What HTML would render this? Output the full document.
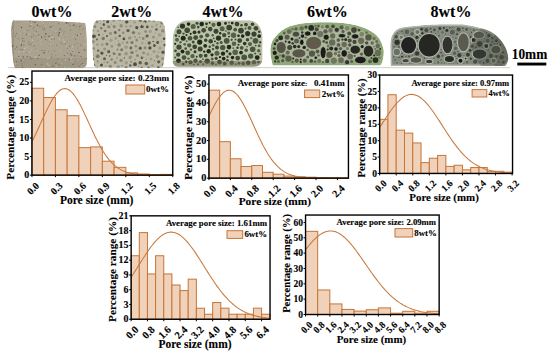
<!DOCTYPE html>
<html><head><meta charset="utf-8"><style>
html,body{margin:0;padding:0;background:#fff;}
body{width:550px;height:353px;overflow:hidden;position:relative;}
svg{position:absolute;left:0;top:0;}
text{font-family:"Liberation Serif",serif;font-weight:bold;fill:#000;stroke:#000;stroke-width:0.12px;}
.ph{font-size:16px;}
</style></head><body>
<svg width="550" height="353" viewBox="0 0 550 353">
<defs>
<pattern id="hatch" patternUnits="userSpaceOnUse" width="2" height="2">
<rect width="2" height="2" fill="#f0d2bb"/>
</pattern>
</defs>
<g id="photos">
<defs><filter id="bl" x="-5%" y="-10%" width="110%" height="120%"><feGaussianBlur stdDeviation="0.5"/></filter>
<filter id="bl2" x="-5%" y="-10%" width="110%" height="120%"><feGaussianBlur stdDeviation="0.35"/></filter>
<clipPath id="cs1"><path d="M13.2,20.3 Q50,19.5 85.2,22.8 Q87.5,30 86.8,64.1 Q86,68 82,68 L14.8,68 Q12,60 11.2,31.4 Q11.5,21.5 13.2,20.3 Z"/></clipPath>
<clipPath id="cs2"><path d="M97,20.2 Q130,19.2 160,21 Q165.7,22 165.7,37.5 Q165.5,60 162.3,67.8 L95,67.5 Q92.3,60 92.1,37.5 Q92.3,21 97,20.2 Z"/></clipPath>
<clipPath id="cs3"><path d="M187,20.2 L249.6,20.2 C257,21 262.6,27 262.6,38 L262.6,58 C262.4,64 259,66.7 254,66.7 L178,66.7 C174,66.5 172.6,64 172.6,60 L172.6,40 C172.8,28 178,21 187,20.2 Z"/></clipPath>
<clipPath id="cs4"><path d="M272.7,65.4 C272.4,63.7 270.9,58.2 270.6,55.0 C270.3,51.8 270.2,48.8 270.8,46.0 C271.4,43.2 271.6,41.4 274.0,38.4 C276.4,35.4 280.1,30.8 285.4,28.2 C290.7,25.6 297.3,24.0 305.8,23.1 C314.3,22.2 327.0,22.0 336.3,22.6 C345.6,23.2 355.0,24.7 361.8,26.9 C368.6,29.1 373.4,32.2 377.0,35.8 C380.6,39.4 382.4,44.5 383.4,48.5 C384.4,52.5 383.3,57.2 382.8,60.0 C382.3,62.8 380.9,64.5 380.5,65.4 Z"/></clipPath>
<clipPath id="cs5"><path d="M390.9,65.9 C390.8,63.6 390.6,56.3 390.6,52.0 C390.6,47.7 390.2,43.4 390.9,40.1 C391.5,36.8 392.5,34.1 394.5,32.0 C396.5,29.9 398.1,28.7 402.7,27.6 C407.2,26.5 413.9,25.9 421.8,25.4 C429.7,24.9 442.4,24.6 450.0,24.6 C457.6,24.6 461.1,24.3 467.1,25.2 C473.2,26.1 481.2,27.8 486.3,29.8 C491.4,31.8 494.8,34.2 498.0,37.2 C501.2,40.2 503.7,44.1 505.4,47.5 C507.1,50.9 507.9,55.1 508.2,57.8 C508.4,60.5 507.4,62.4 506.9,63.7 C506.4,65.1 505.3,65.5 505.0,65.9 Z"/></clipPath>
</defs>
<rect x="8" y="67" width="502" height="1.2" fill="#d9d5d2"/>
<g clip-path="url(#cs1)"><path d="M13.2,20.3 Q50,19.5 85.2,22.8 Q87.5,30 86.8,64.1 Q86,68 82,68 L14.8,68 Q12,60 11.2,31.4 Q11.5,21.5 13.2,20.3 Z" fill="#aaa28e"/><g filter="url(#bl2)"><rect x="10" y="58" width="80" height="12" fill="#948c78" opacity="0.5"/><rect x="10" y="18" width="4" height="52" fill="#8e8672" opacity="0.5"/><circle cx="21.2" cy="60.8" r="0.7" fill="#5e584a"/><circle cx="20" cy="56.8" r="0.6" fill="#bdb8a6"/><circle cx="70.9" cy="25.4" r="0.4" fill="#bdb8a6"/><circle cx="43.9" cy="56.8" r="0.4" fill="#bdb8a6"/><circle cx="31.2" cy="58.7" r="0.6" fill="#6e6858"/><circle cx="79.5" cy="22.4" r="0.4" fill="#c4bfae"/><circle cx="11.7" cy="62.4" r="0.7" fill="#bdb8a6"/><circle cx="66.2" cy="45.8" r="0.7" fill="#bdb8a6"/><circle cx="53" cy="37.2" r="0.7" fill="#bdb8a6"/><circle cx="83.4" cy="64.5" r="0.5" fill="#c4bfae"/><circle cx="81.1" cy="25.7" r="0.6" fill="#8a826e"/><circle cx="76.4" cy="26.7" r="0.5" fill="#8a826e"/><circle cx="85" cy="44.5" r="0.8" fill="#c4bfae"/><circle cx="74.1" cy="52.5" r="0.5" fill="#c4bfae"/><circle cx="85" cy="44.5" r="0.8" fill="#bdb8a6"/><circle cx="55.8" cy="22.6" r="0.5" fill="#bdb8a6"/><circle cx="42.5" cy="29.1" r="0.6" fill="#8a826e"/><circle cx="70" cy="55.7" r="0.4" fill="#8a826e"/><circle cx="49.6" cy="57.6" r="0.6" fill="#bdb8a6"/><circle cx="39.2" cy="55.4" r="0.6" fill="#5e584a"/><circle cx="64.5" cy="67.2" r="0.6" fill="#bdb8a6"/><circle cx="60.2" cy="28.9" r="0.5" fill="#6e6858"/><circle cx="69.6" cy="46.4" r="0.7" fill="#7d7766"/><circle cx="41.7" cy="37.2" r="0.7" fill="#5e584a"/><circle cx="45.9" cy="33.7" r="0.6" fill="#8a826e"/><circle cx="11.4" cy="57.8" r="0.7" fill="#8a826e"/><circle cx="49.9" cy="27.1" r="0.7" fill="#7d7766"/><circle cx="43.4" cy="23.6" r="0.7" fill="#c4bfae"/><circle cx="53.1" cy="65.2" r="0.5" fill="#5e584a"/><circle cx="42.5" cy="21.1" r="0.6" fill="#c4bfae"/><circle cx="36.2" cy="49.2" r="0.7" fill="#8a826e"/><circle cx="24.5" cy="48.5" r="0.7" fill="#c4bfae"/><circle cx="71.6" cy="59.4" r="0.5" fill="#8a826e"/><circle cx="16.4" cy="61.8" r="0.6" fill="#5e584a"/><circle cx="30" cy="26.1" r="0.6" fill="#5e584a"/><circle cx="33.1" cy="28.9" r="0.5" fill="#7d7766"/><circle cx="60.9" cy="51.5" r="0.5" fill="#8a826e"/><circle cx="35.5" cy="43.3" r="0.4" fill="#bdb8a6"/><circle cx="37.1" cy="58.4" r="0.5" fill="#5e584a"/><circle cx="79.4" cy="45" r="0.4" fill="#c4bfae"/><circle cx="43.8" cy="66.9" r="0.5" fill="#bdb8a6"/><circle cx="22.1" cy="54.8" r="0.4" fill="#8a826e"/><circle cx="49.5" cy="41.1" r="0.7" fill="#8a826e"/><circle cx="71.6" cy="45.3" r="0.5" fill="#8a826e"/><circle cx="13.3" cy="52.7" r="0.7" fill="#8a826e"/><circle cx="59" cy="23.8" r="0.5" fill="#7d7766"/><circle cx="77.5" cy="35.4" r="0.7" fill="#5e584a"/><circle cx="80.7" cy="35" r="0.4" fill="#c4bfae"/><circle cx="30.2" cy="21.4" r="0.7" fill="#6e6858"/><circle cx="55.9" cy="31.2" r="0.8" fill="#bdb8a6"/><circle cx="24" cy="61.8" r="0.8" fill="#8a826e"/><circle cx="58.3" cy="22.8" r="0.4" fill="#6e6858"/><circle cx="26.6" cy="52.7" r="0.5" fill="#7d7766"/><circle cx="48.4" cy="65.1" r="0.5" fill="#c4bfae"/><circle cx="49" cy="36.3" r="0.7" fill="#5e584a"/><circle cx="12.4" cy="30.4" r="0.5" fill="#c4bfae"/><circle cx="70.5" cy="36.9" r="0.4" fill="#8a826e"/><circle cx="18.3" cy="38.8" r="0.6" fill="#8a826e"/><circle cx="51.6" cy="57.1" r="0.6" fill="#6e6858"/><circle cx="66.1" cy="25" r="0.4" fill="#c4bfae"/><circle cx="27.2" cy="56.7" r="0.6" fill="#5e584a"/><circle cx="39" cy="37" r="0.5" fill="#c4bfae"/><circle cx="70.2" cy="54.6" r="0.6" fill="#c4bfae"/><circle cx="52.9" cy="25.9" r="0.4" fill="#6e6858"/><circle cx="39.9" cy="67.6" r="0.4" fill="#7d7766"/><circle cx="36.9" cy="49.9" r="0.7" fill="#bdb8a6"/><circle cx="16.8" cy="46.9" r="0.6" fill="#5e584a"/><circle cx="38.7" cy="34.9" r="0.6" fill="#6e6858"/><circle cx="45.8" cy="34" r="0.7" fill="#5e584a"/><circle cx="11.9" cy="52.5" r="0.4" fill="#6e6858"/><circle cx="73.8" cy="58.1" r="0.4" fill="#c4bfae"/><circle cx="43" cy="26.4" r="0.4" fill="#7d7766"/><circle cx="23.1" cy="60.7" r="0.5" fill="#bdb8a6"/><circle cx="72.3" cy="46.5" r="0.7" fill="#c4bfae"/><circle cx="30.3" cy="43.4" r="0.4" fill="#8a826e"/><circle cx="35.1" cy="22.3" r="0.7" fill="#5e584a"/><circle cx="66.2" cy="36.1" r="0.5" fill="#bdb8a6"/><circle cx="15.8" cy="63.9" r="0.8" fill="#bdb8a6"/><circle cx="19.5" cy="31.1" r="0.6" fill="#c4bfae"/><circle cx="76.9" cy="43" r="0.5" fill="#7d7766"/><circle cx="52.2" cy="35.4" r="0.5" fill="#6e6858"/><circle cx="73.3" cy="25.2" r="0.7" fill="#6e6858"/><circle cx="60.6" cy="51.2" r="0.8" fill="#bdb8a6"/><circle cx="84.5" cy="22.9" r="0.4" fill="#c4bfae"/><circle cx="78.9" cy="35.2" r="0.5" fill="#c4bfae"/><circle cx="57.5" cy="59" r="0.4" fill="#7d7766"/><circle cx="12.5" cy="32.5" r="0.4" fill="#c4bfae"/><circle cx="76.9" cy="55.3" r="0.4" fill="#6e6858"/><circle cx="33.1" cy="58.2" r="0.6" fill="#7d7766"/><circle cx="18.7" cy="57.6" r="0.5" fill="#c4bfae"/><circle cx="83.1" cy="29.1" r="0.7" fill="#7d7766"/><circle cx="73.4" cy="36" r="0.4" fill="#c4bfae"/><circle cx="74.4" cy="49.3" r="0.4" fill="#7d7766"/><circle cx="21.8" cy="63.8" r="0.4" fill="#5e584a"/><circle cx="73.4" cy="50.3" r="0.7" fill="#c4bfae"/><circle cx="74.9" cy="56.1" r="0.7" fill="#7d7766"/><circle cx="33.7" cy="46.3" r="0.4" fill="#8a826e"/><circle cx="29.8" cy="57.6" r="0.7" fill="#bdb8a6"/><circle cx="72.4" cy="46.8" r="0.6" fill="#c4bfae"/><circle cx="45.5" cy="39.6" r="0.5" fill="#5e584a"/><circle cx="47.9" cy="58.3" r="0.8" fill="#c4bfae"/><circle cx="12.4" cy="53.5" r="0.6" fill="#c4bfae"/><circle cx="20.5" cy="33.2" r="0.7" fill="#bdb8a6"/><circle cx="53.9" cy="29.1" r="0.4" fill="#bdb8a6"/><circle cx="11.6" cy="45.8" r="0.6" fill="#8a826e"/><circle cx="81" cy="64.7" r="0.6" fill="#7d7766"/><circle cx="29.1" cy="44.3" r="0.6" fill="#7d7766"/><circle cx="65.2" cy="36.8" r="0.6" fill="#8a826e"/><circle cx="80.7" cy="33.9" r="0.6" fill="#6e6858"/><circle cx="81" cy="56.9" r="0.6" fill="#5e584a"/><circle cx="23.1" cy="57" r="0.7" fill="#5e584a"/><circle cx="33.7" cy="35.1" r="0.6" fill="#7d7766"/><circle cx="64.3" cy="55.6" r="0.6" fill="#6e6858"/><circle cx="79.1" cy="66.1" r="0.6" fill="#7d7766"/><circle cx="22.8" cy="41.1" r="0.8" fill="#8a826e"/><circle cx="68.6" cy="23.5" r="0.7" fill="#8a826e"/><circle cx="59.4" cy="39" r="0.7" fill="#c4bfae"/><circle cx="66.5" cy="22.9" r="0.8" fill="#5e584a"/><circle cx="58.8" cy="33.6" r="0.8" fill="#7d7766"/><circle cx="84.7" cy="50" r="0.8" fill="#8a826e"/><circle cx="64.2" cy="41.9" r="0.8" fill="#bdb8a6"/><circle cx="82.4" cy="63.5" r="0.5" fill="#5e584a"/><circle cx="44.3" cy="50.3" r="0.6" fill="#7d7766"/><circle cx="20.1" cy="49.2" r="0.5" fill="#6e6858"/><circle cx="61.2" cy="34.1" r="0.5" fill="#c4bfae"/><circle cx="11.3" cy="29.9" r="0.5" fill="#6e6858"/><circle cx="13.3" cy="66.7" r="0.5" fill="#5e584a"/><circle cx="26.7" cy="34.4" r="0.6" fill="#5e584a"/><circle cx="34.6" cy="56.6" r="0.7" fill="#bdb8a6"/><circle cx="71.1" cy="59" r="0.8" fill="#c4bfae"/><circle cx="38.1" cy="40.7" r="0.4" fill="#7d7766"/><circle cx="54.4" cy="39" r="0.5" fill="#6e6858"/><circle cx="79.7" cy="22.1" r="0.6" fill="#6e6858"/><circle cx="52.4" cy="66.4" r="0.7" fill="#8a826e"/><circle cx="21.4" cy="44.5" r="0.6" fill="#5e584a"/><circle cx="44.2" cy="52.8" r="0.7" fill="#5e584a"/><circle cx="11.1" cy="41.8" r="0.6" fill="#5e584a"/><circle cx="52" cy="37" r="0.7" fill="#c4bfae"/><circle cx="48.4" cy="51.4" r="0.5" fill="#7d7766"/><circle cx="53.3" cy="67.8" r="0.6" fill="#8a826e"/><circle cx="78" cy="60" r="0.6" fill="#bdb8a6"/><circle cx="56.7" cy="45.3" r="0.8" fill="#8a826e"/><circle cx="86.1" cy="35.4" r="0.4" fill="#c4bfae"/><circle cx="61.8" cy="30.3" r="0.6" fill="#8a826e"/><circle cx="40.6" cy="41" r="0.5" fill="#c4bfae"/><circle cx="55.4" cy="55.5" r="0.8" fill="#8a826e"/><circle cx="16.1" cy="67.4" r="0.5" fill="#8a826e"/><circle cx="33.1" cy="22" r="0.7" fill="#7d7766"/><circle cx="59.2" cy="65" r="0.7" fill="#7d7766"/><circle cx="69.3" cy="59.3" r="0.6" fill="#5e584a"/><circle cx="80.4" cy="58.5" r="0.5" fill="#8a826e"/><circle cx="52.4" cy="28.1" r="0.7" fill="#bdb8a6"/><circle cx="23.9" cy="45" r="0.5" fill="#6e6858"/><circle cx="67.6" cy="40.9" r="0.5" fill="#8a826e"/><circle cx="44.6" cy="28.7" r="0.7" fill="#7d7766"/><circle cx="63.5" cy="39.9" r="0.7" fill="#c4bfae"/><circle cx="34.1" cy="45.8" r="0.5" fill="#5e584a"/><circle cx="31.4" cy="24.5" r="0.7" fill="#c4bfae"/><circle cx="61.1" cy="43" r="0.6" fill="#6e6858"/><circle cx="23.8" cy="51.7" r="0.7" fill="#c4bfae"/><circle cx="31.5" cy="49.7" r="0.5" fill="#c4bfae"/><circle cx="41.4" cy="43.7" r="0.5" fill="#c4bfae"/><circle cx="36.1" cy="31.4" r="0.8" fill="#8a826e"/><circle cx="29.6" cy="52.1" r="0.7" fill="#c4bfae"/><circle cx="41.6" cy="64.6" r="0.8" fill="#7d7766"/><circle cx="70.7" cy="29.9" r="0.6" fill="#7d7766"/><circle cx="77.2" cy="48.2" r="0.6" fill="#8a826e"/><circle cx="22.3" cy="65.4" r="0.6" fill="#7d7766"/><circle cx="21.5" cy="27.5" r="0.7" fill="#5e584a"/><circle cx="34.5" cy="39.8" r="0.4" fill="#7d7766"/><circle cx="65.6" cy="35.4" r="0.4" fill="#bdb8a6"/><circle cx="35.4" cy="64.6" r="0.8" fill="#6e6858"/><circle cx="15.2" cy="49.1" r="0.7" fill="#7d7766"/><circle cx="62.9" cy="44.2" r="0.6" fill="#8a826e"/><circle cx="84.3" cy="49.8" r="0.5" fill="#5e584a"/><circle cx="20" cy="53.6" r="0.4" fill="#bdb8a6"/><circle cx="28.7" cy="42.1" r="0.7" fill="#7d7766"/><circle cx="28.9" cy="34.3" r="0.6" fill="#bdb8a6"/><circle cx="27.1" cy="54.6" r="0.5" fill="#c4bfae"/><circle cx="19.4" cy="31.1" r="0.4" fill="#6e6858"/><circle cx="71.6" cy="61.3" r="0.5" fill="#bdb8a6"/><circle cx="75.4" cy="34.5" r="0.4" fill="#7d7766"/><circle cx="77.9" cy="56.7" r="0.4" fill="#6e6858"/><circle cx="12.2" cy="27.8" r="0.6" fill="#6e6858"/><circle cx="53.9" cy="32.9" r="0.4" fill="#8a826e"/><circle cx="74.8" cy="63.6" r="0.4" fill="#6e6858"/><circle cx="50.9" cy="27.1" r="0.8" fill="#6e6858"/><circle cx="43.9" cy="29.9" r="0.6" fill="#7d7766"/><circle cx="67.6" cy="53.3" r="0.7" fill="#8a826e"/><circle cx="45" cy="36.5" r="0.5" fill="#5e584a"/><circle cx="59.8" cy="32.4" r="0.4" fill="#c4bfae"/><circle cx="24.3" cy="41.1" r="0.7" fill="#8a826e"/><circle cx="50.7" cy="23.9" r="0.5" fill="#bdb8a6"/><circle cx="51.9" cy="54.4" r="0.6" fill="#8a826e"/><circle cx="16.3" cy="33.6" r="0.6" fill="#6e6858"/><circle cx="30.1" cy="66.9" r="0.4" fill="#7d7766"/><circle cx="75.9" cy="61.1" r="0.4" fill="#6e6858"/><circle cx="80.3" cy="45.1" r="0.6" fill="#6e6858"/><circle cx="85.8" cy="22.9" r="0.6" fill="#bdb8a6"/><circle cx="61.5" cy="63.1" r="0.7" fill="#bdb8a6"/><circle cx="12.9" cy="45.7" r="0.4" fill="#5e584a"/><circle cx="17.5" cy="22.6" r="0.5" fill="#8a826e"/><circle cx="30.8" cy="55.6" r="0.5" fill="#bdb8a6"/><circle cx="72.3" cy="61.2" r="0.5" fill="#bdb8a6"/><circle cx="74.9" cy="44.6" r="0.4" fill="#5e584a"/><circle cx="49.7" cy="39.4" r="0.8" fill="#bdb8a6"/><circle cx="19" cy="51.7" r="0.6" fill="#c4bfae"/><circle cx="65.7" cy="60.2" r="0.7" fill="#c4bfae"/><circle cx="13.3" cy="67" r="0.8" fill="#8a826e"/><circle cx="22.9" cy="38.4" r="0.6" fill="#6e6858"/><circle cx="42.1" cy="26.9" r="0.4" fill="#5e584a"/><circle cx="72.9" cy="51.6" r="0.5" fill="#5e584a"/><circle cx="35.2" cy="33.8" r="0.7" fill="#c4bfae"/><circle cx="49.1" cy="45.7" r="0.4" fill="#8a826e"/><circle cx="35.7" cy="36.4" r="0.4" fill="#5e584a"/><circle cx="47.5" cy="63.9" r="0.8" fill="#bdb8a6"/><circle cx="73" cy="64.5" r="0.8" fill="#6e6858"/><circle cx="21.2" cy="45.6" r="0.6" fill="#5e584a"/><circle cx="70.6" cy="54" r="0.7" fill="#5e584a"/><circle cx="86.3" cy="58.5" r="0.5" fill="#5e584a"/><circle cx="46.3" cy="67" r="0.6" fill="#7d7766"/><circle cx="13.2" cy="32.8" r="0.4" fill="#7d7766"/><circle cx="79.9" cy="29.7" r="0.5" fill="#8a826e"/><circle cx="58.1" cy="59.2" r="0.8" fill="#8a826e"/><circle cx="31.2" cy="26" r="0.5" fill="#8a826e"/><circle cx="54.4" cy="51.1" r="0.7" fill="#7d7766"/><circle cx="59.9" cy="29.1" r="0.7" fill="#6e6858"/><circle cx="55.9" cy="63.3" r="0.6" fill="#5e584a"/><circle cx="27.7" cy="30.4" r="0.6" fill="#7d7766"/><circle cx="43.3" cy="52.8" r="0.6" fill="#7d7766"/><circle cx="71.7" cy="55.1" r="0.7" fill="#5e584a"/><circle cx="42" cy="21.4" r="0.6" fill="#bdb8a6"/><circle cx="50.1" cy="43.9" r="0.5" fill="#c4bfae"/><circle cx="71.5" cy="48.5" r="0.4" fill="#bdb8a6"/><circle cx="11.5" cy="66.1" r="0.7" fill="#8a826e"/><circle cx="11.4" cy="26.6" r="0.5" fill="#8a826e"/><circle cx="35" cy="57.5" r="0.6" fill="#c4bfae"/><circle cx="32.5" cy="40.3" r="0.8" fill="#c4bfae"/><circle cx="42" cy="50.6" r="0.5" fill="#5e584a"/><circle cx="21" cy="41.9" r="0.4" fill="#7d7766"/><circle cx="30.2" cy="21.5" r="0.5" fill="#8a826e"/><circle cx="54" cy="38.3" r="0.5" fill="#8a826e"/><circle cx="79" cy="52.5" r="0.8" fill="#6e6858"/><circle cx="75.3" cy="39" r="0.6" fill="#5e584a"/><circle cx="59.3" cy="61.1" r="0.7" fill="#bdb8a6"/><circle cx="45.7" cy="26.5" r="0.5" fill="#bdb8a6"/><circle cx="22.3" cy="67.8" r="0.7" fill="#5e584a"/><circle cx="76.2" cy="48.7" r="0.5" fill="#bdb8a6"/><circle cx="30.6" cy="45.1" r="0.7" fill="#8a826e"/><circle cx="31.8" cy="36.8" r="0.8" fill="#7d7766"/><circle cx="65.4" cy="44.1" r="0.8" fill="#8a826e"/><circle cx="43.3" cy="24" r="0.4" fill="#7d7766"/><circle cx="28.4" cy="22.2" r="0.5" fill="#bdb8a6"/><circle cx="69.9" cy="25.7" r="0.6" fill="#7d7766"/><circle cx="74.4" cy="25.2" r="0.6" fill="#6e6858"/><circle cx="52.8" cy="46.1" r="0.5" fill="#8a826e"/><circle cx="84.7" cy="25.8" r="0.6" fill="#bdb8a6"/><circle cx="74.5" cy="55.8" r="0.8" fill="#8a826e"/><circle cx="32.2" cy="43.5" r="0.7" fill="#6e6858"/><circle cx="70.8" cy="52.8" r="0.4" fill="#bdb8a6"/><circle cx="20.4" cy="42" r="0.7" fill="#bdb8a6"/><circle cx="79.8" cy="26.5" r="0.7" fill="#6e6858"/><circle cx="22.3" cy="49.8" r="0.7" fill="#7d7766"/><circle cx="50.6" cy="40.6" r="0.7" fill="#c4bfae"/><circle cx="32.9" cy="44.1" r="0.8" fill="#c4bfae"/><circle cx="80.4" cy="58.1" r="0.6" fill="#bdb8a6"/><circle cx="18.8" cy="56.6" r="0.7" fill="#5e584a"/><circle cx="81.4" cy="66.5" r="0.5" fill="#c4bfae"/><circle cx="58.5" cy="35.1" r="0.8" fill="#6e6858"/><circle cx="28.4" cy="33.9" r="0.7" fill="#bdb8a6"/><circle cx="22.3" cy="33" r="0.5" fill="#8a826e"/><circle cx="56.5" cy="66.1" r="0.6" fill="#c4bfae"/><circle cx="49.7" cy="65.5" r="0.5" fill="#bdb8a6"/><circle cx="63.9" cy="33.6" r="0.4" fill="#5e584a"/><circle cx="56.5" cy="32.4" r="0.4" fill="#7d7766"/><circle cx="67.2" cy="48.3" r="0.6" fill="#7d7766"/><circle cx="15.4" cy="36.3" r="0.7" fill="#8a826e"/><circle cx="68.9" cy="67.5" r="0.4" fill="#c4bfae"/><circle cx="48.5" cy="36.5" r="0.4" fill="#7d7766"/><circle cx="64.1" cy="31.6" r="0.6" fill="#8a826e"/><circle cx="14.8" cy="29.1" r="0.4" fill="#c4bfae"/><circle cx="26.2" cy="47.7" r="0.7" fill="#bdb8a6"/><circle cx="35.9" cy="57.4" r="0.7" fill="#c4bfae"/><circle cx="27.7" cy="55.9" r="0.5" fill="#8a826e"/><circle cx="85.9" cy="37" r="0.6" fill="#c4bfae"/><circle cx="39.8" cy="26.7" r="0.5" fill="#6e6858"/><circle cx="30.1" cy="57.2" r="0.7" fill="#6e6858"/><circle cx="37.4" cy="25.3" r="0.8" fill="#5e584a"/><circle cx="35.1" cy="33.7" r="0.4" fill="#6e6858"/><circle cx="17" cy="64.5" r="0.5" fill="#8a826e"/><circle cx="59.5" cy="32.4" r="0.7" fill="#5e584a"/><circle cx="11.6" cy="62.7" r="0.8" fill="#6e6858"/><circle cx="37.8" cy="58.8" r="0.6" fill="#7d7766"/><circle cx="57.1" cy="61.9" r="0.5" fill="#8a826e"/><circle cx="54.8" cy="55.1" r="0.6" fill="#bdb8a6"/><circle cx="51.7" cy="39.5" r="0.8" fill="#8a826e"/><circle cx="34" cy="27.3" r="0.6" fill="#6e6858"/><circle cx="24.3" cy="31.1" r="0.5" fill="#c4bfae"/><circle cx="12.5" cy="46.3" r="0.8" fill="#5e584a"/><circle cx="47" cy="40" r="0.4" fill="#5e584a"/></g></g>
<g clip-path="url(#cs2)"><path d="M97,20.2 Q130,19.2 160,21 Q165.7,22 165.7,37.5 Q165.5,60 162.3,67.8 L95,67.5 Q92.3,60 92.1,37.5 Q92.3,21 97,20.2 Z" fill="#bab7a4"/><g filter="url(#bl2)"><circle cx="162.1" cy="22.7" r="1.9" fill="#8a8874"/><circle cx="104.5" cy="58.8" r="1.5" fill="#5e5d4e"/><circle cx="107.7" cy="21.7" r="1.5" fill="#4e4d40"/><circle cx="123.9" cy="38.9" r="1.4" fill="#4e4d40"/><circle cx="129.7" cy="37.9" r="1.8" fill="#95937e"/><circle cx="158.7" cy="61.8" r="1.6" fill="#5e5d4e"/><circle cx="115.6" cy="38.2" r="1.6" fill="#9e9c88"/><circle cx="105.1" cy="31.1" r="1.4" fill="#7a7966"/><circle cx="102.1" cy="44.5" r="1.5" fill="#9e9c88"/><circle cx="146.3" cy="63.5" r="1.8" fill="#5e5d4e"/><circle cx="118.2" cy="67.1" r="1.8" fill="#95937e"/><circle cx="147.8" cy="54.3" r="1.4" fill="#95937e"/><circle cx="110.5" cy="33.4" r="1.7" fill="#95937e"/><circle cx="153.5" cy="37" r="1.6" fill="#95937e"/><circle cx="126.1" cy="47.2" r="1.8" fill="#9e9c88"/><circle cx="128" cy="30.6" r="1.7" fill="#5e5d4e"/><circle cx="149.2" cy="43" r="1.7" fill="#5e5d4e"/><circle cx="140.2" cy="48.2" r="1.6" fill="#5e5d4e"/><circle cx="92.6" cy="59.1" r="1.5" fill="#4e4d40"/><circle cx="134.5" cy="22.3" r="1.4" fill="#9e9c88"/><circle cx="156.8" cy="25.1" r="1.4" fill="#9e9c88"/><circle cx="111.7" cy="59.6" r="1.4" fill="#8a8874"/><circle cx="145.1" cy="21.5" r="1.6" fill="#5e5d4e"/><circle cx="97" cy="22" r="1.4" fill="#8a8874"/><circle cx="101.5" cy="64.9" r="1.5" fill="#4e4d40"/><circle cx="143.2" cy="38.5" r="1.4" fill="#8a8874"/><circle cx="110.3" cy="66.6" r="1.8" fill="#8a8874"/><circle cx="137.5" cy="55.6" r="1.5" fill="#8a8874"/><circle cx="121.7" cy="49.8" r="1.5" fill="#7a7966"/><circle cx="108.7" cy="51.7" r="1.6" fill="#5e5d4e"/><circle cx="130.4" cy="57.5" r="1.9" fill="#95937e"/><circle cx="136.8" cy="40.1" r="1.5" fill="#8a8874"/><circle cx="163" cy="52.2" r="1.7" fill="#5e5d4e"/><circle cx="103.9" cy="24.6" r="1.3" fill="#4e4d40"/><circle cx="98" cy="31" r="1.3" fill="#9e9c88"/><circle cx="111" cy="40.3" r="1.7" fill="#9e9c88"/><circle cx="103.2" cy="38.5" r="1.7" fill="#7a7966"/><circle cx="145.6" cy="31.6" r="1.4" fill="#8a8874"/><circle cx="93.6" cy="48.4" r="1.5" fill="#95937e"/><circle cx="135" cy="64.2" r="1.9" fill="#4e4d40"/><circle cx="119.1" cy="44.9" r="1.8" fill="#8a8874"/><circle cx="93.2" cy="41.7" r="1.7" fill="#95937e"/><circle cx="126.3" cy="62.7" r="1.7" fill="#9e9c88"/><circle cx="97.7" cy="56.2" r="1.9" fill="#7a7966"/><circle cx="119.6" cy="54.4" r="1.4" fill="#7a7966"/><circle cx="121.2" cy="25.8" r="1.7" fill="#8a8874"/><circle cx="126.8" cy="22.1" r="1.7" fill="#4e4d40"/><circle cx="162.6" cy="58.6" r="1.6" fill="#95937e"/><circle cx="160" cy="48.1" r="1.7" fill="#9e9c88"/><circle cx="158.3" cy="67.5" r="1.3" fill="#4e4d40"/><circle cx="164.1" cy="38.7" r="1.3" fill="#4e4d40"/><circle cx="126.1" cy="53.8" r="1.8" fill="#95937e"/><circle cx="159.7" cy="35" r="1.8" fill="#9e9c88"/><circle cx="93.3" cy="65.3" r="1.8" fill="#4e4d40"/><circle cx="142.2" cy="43.1" r="1.3" fill="#9e9c88"/><circle cx="154" cy="51.6" r="1.6" fill="#9e9c88"/><circle cx="113.8" cy="20.5" r="1.6" fill="#9e9c88"/><circle cx="92.1" cy="21.6" r="1.6" fill="#95937e"/><circle cx="101.9" cy="53.1" r="1.6" fill="#4e4d40"/><circle cx="121.1" cy="60.4" r="1.7" fill="#8a8874"/><circle cx="142" cy="57.8" r="1.4" fill="#5e5d4e"/><circle cx="157.7" cy="42.5" r="1.4" fill="#4e4d40"/><circle cx="111.9" cy="46.4" r="1.4" fill="#95937e"/><circle cx="157.4" cy="56.6" r="1.8" fill="#95937e"/><circle cx="132" cy="42.5" r="1.6" fill="#7a7966"/><circle cx="107" cy="43.9" r="1.5" fill="#7a7966"/><circle cx="162.8" cy="30.9" r="1.7" fill="#8a8874"/><circle cx="165.6" cy="26.2" r="1.3" fill="#4e4d40"/><circle cx="119.5" cy="20.1" r="1.4" fill="#9e9c88"/><circle cx="151" cy="59" r="1.5" fill="#9e9c88"/><circle cx="94.9" cy="26.6" r="1.5" fill="#8a8874"/><circle cx="104.6" cy="49" r="1.5" fill="#95937e"/><circle cx="156.4" cy="29.5" r="1.3" fill="#5e5d4e"/><circle cx="150.3" cy="31.4" r="1.6" fill="#9e9c88"/><circle cx="163.4" cy="64.4" r="1.5" fill="#7a7966"/><circle cx="133.5" cy="32.6" r="1.7" fill="#7a7966"/><circle cx="149.9" cy="47.9" r="1.6" fill="#4e4d40"/><circle cx="132" cy="52.6" r="1.7" fill="#7a7966"/><circle cx="93.9" cy="36.3" r="1.9" fill="#4e4d40"/><circle cx="141.8" cy="68" r="1.3" fill="#4e4d40"/><circle cx="152.5" cy="65.4" r="1.4" fill="#9e9c88"/><circle cx="153.9" cy="20.5" r="1.5" fill="#8a8874"/><circle cx="108.8" cy="26.7" r="1.5" fill="#7a7966"/><circle cx="152.2" cy="26.8" r="1.3" fill="#9e9c88"/><circle cx="136.8" cy="27.6" r="1.6" fill="#4e4d40"/><circle cx="142" cy="26.5" r="1.7" fill="#4e4d40"/><circle cx="139.1" cy="33.3" r="1.5" fill="#9e9c88"/><circle cx="114.1" cy="26.8" r="1.7" fill="#8a8874"/><circle cx="164.7" cy="45.1" r="1.3" fill="#5e5d4e"/><circle cx="97.4" cy="44.6" r="1.4" fill="#9e9c88"/><circle cx="126.2" cy="67.8" r="1.6" fill="#5e5d4e"/><circle cx="115.3" cy="32.5" r="1.5" fill="#5e5d4e"/><circle cx="135.8" cy="46.2" r="1.3" fill="#8a8874"/><circle cx="145" cy="47.7" r="1.5" fill="#8a8874"/><circle cx="123.3" cy="32.8" r="1.3" fill="#8a8874"/><circle cx="114.1" cy="53.4" r="1.5" fill="#7a7966"/><circle cx="130.7" cy="26.3" r="1.4" fill="#9e9c88"/><circle cx="140.3" cy="20.6" r="1.7" fill="#7a7966"/><circle cx="147.3" cy="26.9" r="1.3" fill="#4e4d40"/><circle cx="140.2" cy="62.7" r="1.7" fill="#5e5d4e"/><circle cx="147.1" cy="36.1" r="1.6" fill="#5e5d4e"/><circle cx="119.7" cy="35.9" r="1.2" fill="#5e5d4e"/><circle cx="154.4" cy="45.6" r="1.4" fill="#4e4d40"/><circle cx="130.9" cy="48" r="1.4" fill="#5e5d4e"/><circle cx="143.6" cy="52.8" r="1.4" fill="#8a8874"/><circle cx="115.2" cy="62.6" r="1.5" fill="#8a8874"/><circle cx="127.2" cy="42.5" r="1.3" fill="#8a8874"/><circle cx="130.3" cy="65.5" r="1.2" fill="#5e5d4e"/><circle cx="107" cy="36.1" r="1.1" fill="#5e5d4e"/><circle cx="117.5" cy="49.6" r="1.1" fill="#8a8874"/><circle cx="97.7" cy="61.4" r="1.1" fill="#95937e"/><circle cx="148.5" cy="67.8" r="1.3" fill="#5e5d4e"/><circle cx="98.2" cy="50.6" r="1.2" fill="#5e5d4e"/><circle cx="99" cy="34.9" r="1.1" fill="#5e5d4e"/><circle cx="149.4" cy="20.5" r="1.2" fill="#7a7966"/><circle cx="107.5" cy="62.4" r="1.1" fill="#8a8874"/><circle cx="119.2" cy="30.1" r="1.2" fill="#7a7966"/><circle cx="136.5" cy="51.1" r="1.4" fill="#9e9c88"/><circle cx="101.2" cy="28.3" r="1.2" fill="#7a7966"/><circle cx="93.1" cy="30.5" r="1" fill="#95937e"/><circle cx="97" cy="39.6" r="1" fill="#5e5d4e"/><circle cx="92" cy="52.4" r="0.9" fill="#9e9c88"/><circle cx="131" cy="20.2" r="0.9" fill="#9e9c88"/><circle cx="126.3" cy="26.4" r="0.9" fill="#8a8874"/><circle cx="116.9" cy="57.9" r="1.1" fill="#9e9c88"/><circle cx="109.8" cy="56" r="0.8" fill="#4e4d40"/><circle cx="103.8" cy="20.4" r="0.9" fill="#8a8874"/><circle cx="135" cy="59.4" r="1" fill="#95937e"/><circle cx="158.2" cy="20.1" r="0.8" fill="#5e5d4e"/><circle cx="124.4" cy="58" r="0.8" fill="#5e5d4e"/><circle cx="105.5" cy="66.1" r="0.8" fill="#95937e"/><circle cx="131.2" cy="61.8" r="0.9" fill="#7a7966"/><circle cx="158.5" cy="52.2" r="1" fill="#9e9c88"/><circle cx="122.1" cy="65.7" r="0.7" fill="#7a7966"/><circle cx="122.8" cy="42.7" r="0.9" fill="#95937e"/><circle cx="146.4" cy="59.1" r="0.8" fill="#9e9c88"/><circle cx="97.3" cy="67.4" r="0.8" fill="#8a8874"/><circle cx="103.1" cy="34.4" r="0.6" fill="#95937e"/><circle cx="118.4" cy="41" r="0.6" fill="#7a7966"/><circle cx="154.5" cy="60.7" r="0.5" fill="#4e4d40"/><circle cx="138.7" cy="66.5" r="0.6" fill="#5e5d4e"/><circle cx="135" cy="36.9" r="0.6" fill="#5e5d4e"/><circle cx="114.3" cy="67.9" r="0.5" fill="#9e9c88"/><circle cx="111.3" cy="24.1" r="0.5" fill="#7a7966"/><circle cx="157" cy="38.7" r="0.6" fill="#95937e"/><circle cx="160.4" cy="26.3" r="0.5" fill="#5e5d4e"/><circle cx="139.4" cy="37.3" r="0.7" fill="#7a7966"/><circle cx="100.7" cy="23.4" r="0.5" fill="#95937e"/><circle cx="117.1" cy="23.8" r="0.4" fill="#9e9c88"/><circle cx="106.6" cy="55.5" r="0.5" fill="#4e4d40"/><circle cx="155.2" cy="32.9" r="0.6" fill="#95937e"/><circle cx="161.5" cy="41.5" r="0.6" fill="#9e9c88"/><circle cx="153.2" cy="41.5" r="0.8" fill="#5e5d4e"/><circle cx="145.6" cy="43.8" r="0.4" fill="#5e5d4e"/><circle cx="100.3" cy="20" r="0.8" fill="#8a8874"/><circle cx="165.8" cy="55.1" r="0.5" fill="#5e5d4e"/><circle cx="151.3" cy="54.8" r="0.5" fill="#95937e"/><circle cx="122.9" cy="20.9" r="0.4" fill="#7a7966"/><circle cx="106.6" cy="40.4" r="0.4" fill="#95937e"/><circle cx="162.9" cy="68" r="0.4" fill="#95937e"/><circle cx="112" cy="49.8" r="0.4" fill="#9e9c88"/><circle cx="114.9" cy="43.9" r="0.5" fill="#95937e"/><circle cx="93.7" cy="55" r="0.5" fill="#7a7966"/><circle cx="104.1" cy="62.5" r="0.4" fill="#4e4d40"/><circle cx="146.3" cy="40.7" r="0.4" fill="#7a7966"/><circle cx="162.9" cy="26.7" r="0.3" fill="#bebca8"/><circle cx="105.6" cy="25.8" r="0.5" fill="#bebca8"/><circle cx="150.7" cy="23.8" r="0.4" fill="#c8c6b4"/><circle cx="115.6" cy="48.9" r="0.6" fill="#bebca8"/><circle cx="144.4" cy="22.3" r="0.6" fill="#bebca8"/><circle cx="115" cy="29.1" r="0.6" fill="#c8c6b4"/><circle cx="143.7" cy="49.4" r="0.4" fill="#bebca8"/><circle cx="115.1" cy="57.5" r="0.6" fill="#c8c6b4"/><circle cx="112.7" cy="33" r="0.5" fill="#bebca8"/><circle cx="95.6" cy="45.5" r="0.3" fill="#bebca8"/><circle cx="129.5" cy="44.8" r="0.4" fill="#c8c6b4"/><circle cx="114.7" cy="37.9" r="0.5" fill="#bebca8"/><circle cx="134.6" cy="46.9" r="0.5" fill="#bebca8"/><circle cx="98.5" cy="67.8" r="0.4" fill="#bebca8"/><circle cx="149.8" cy="22.8" r="0.6" fill="#c8c6b4"/><circle cx="129.9" cy="39.2" r="0.3" fill="#c8c6b4"/><circle cx="104.7" cy="46.2" r="0.4" fill="#bebca8"/><circle cx="159.3" cy="50.2" r="0.4" fill="#c8c6b4"/><circle cx="131.6" cy="58.2" r="0.5" fill="#c8c6b4"/><circle cx="140.5" cy="24.8" r="0.4" fill="#c8c6b4"/><circle cx="153.3" cy="64.2" r="0.4" fill="#c8c6b4"/><circle cx="128.9" cy="45.1" r="0.5" fill="#bebca8"/><circle cx="127.2" cy="23.2" r="0.5" fill="#c8c6b4"/><circle cx="152.7" cy="49.2" r="0.6" fill="#c8c6b4"/><circle cx="105.8" cy="36.8" r="0.3" fill="#c8c6b4"/><circle cx="104.7" cy="53.2" r="0.4" fill="#bebca8"/><circle cx="105.1" cy="23.7" r="0.4" fill="#c8c6b4"/><circle cx="165.5" cy="45.7" r="0.4" fill="#c8c6b4"/><circle cx="105.4" cy="33.3" r="0.3" fill="#bebca8"/><circle cx="137.8" cy="39.3" r="0.3" fill="#c8c6b4"/><circle cx="94.8" cy="38.1" r="0.6" fill="#c8c6b4"/><circle cx="107.2" cy="56.2" r="0.5" fill="#c8c6b4"/><circle cx="147.5" cy="54.5" r="0.4" fill="#c8c6b4"/><circle cx="157.8" cy="25.4" r="0.6" fill="#c8c6b4"/><circle cx="105.2" cy="66.2" r="0.4" fill="#c8c6b4"/><circle cx="128.9" cy="49" r="0.3" fill="#bebca8"/><circle cx="143.8" cy="33.3" r="0.5" fill="#c8c6b4"/><circle cx="138.8" cy="67.3" r="0.6" fill="#c8c6b4"/><circle cx="124.8" cy="40.6" r="0.4" fill="#bebca8"/><circle cx="155.9" cy="59.3" r="0.3" fill="#bebca8"/><circle cx="137" cy="25.1" r="0.6" fill="#bebca8"/><circle cx="112.6" cy="60.5" r="0.4" fill="#bebca8"/><circle cx="112.6" cy="27.6" r="0.6" fill="#bebca8"/><circle cx="143.6" cy="59.2" r="0.6" fill="#c8c6b4"/><circle cx="128.9" cy="36.5" r="0.6" fill="#c8c6b4"/><circle cx="120.6" cy="51.5" r="0.4" fill="#c8c6b4"/><circle cx="98.3" cy="64.2" r="0.4" fill="#c8c6b4"/><circle cx="130.3" cy="66.5" r="0.3" fill="#bebca8"/><circle cx="156" cy="48.7" r="0.5" fill="#c8c6b4"/><circle cx="100.4" cy="44.3" r="0.3" fill="#c8c6b4"/><circle cx="99.3" cy="23.2" r="0.4" fill="#bebca8"/><circle cx="161.4" cy="63.6" r="0.4" fill="#bebca8"/><circle cx="115.8" cy="52.5" r="0.5" fill="#c8c6b4"/><circle cx="158.7" cy="58.4" r="0.5" fill="#bebca8"/><circle cx="142.3" cy="20.2" r="0.4" fill="#c8c6b4"/><circle cx="160.5" cy="34.3" r="0.3" fill="#bebca8"/><circle cx="100.3" cy="63.5" r="0.5" fill="#c8c6b4"/><circle cx="103.8" cy="33.7" r="0.4" fill="#c8c6b4"/><circle cx="152.2" cy="34.7" r="0.5" fill="#bebca8"/><circle cx="158.9" cy="42.3" r="0.4" fill="#c8c6b4"/><circle cx="98.9" cy="59.5" r="0.5" fill="#c8c6b4"/><circle cx="124.9" cy="32.3" r="0.4" fill="#c8c6b4"/><circle cx="100.4" cy="43.1" r="0.5" fill="#bebca8"/><circle cx="97.1" cy="36.3" r="0.4" fill="#bebca8"/><circle cx="124.1" cy="45.9" r="0.4" fill="#bebca8"/><circle cx="151.8" cy="52.2" r="0.4" fill="#bebca8"/><circle cx="142.9" cy="64.9" r="0.3" fill="#bebca8"/><circle cx="147.8" cy="23.8" r="0.5" fill="#bebca8"/><circle cx="138.6" cy="21" r="0.6" fill="#bebca8"/><circle cx="131.8" cy="48.1" r="0.4" fill="#bebca8"/><circle cx="146.6" cy="41.6" r="0.5" fill="#bebca8"/><circle cx="141.4" cy="41.7" r="0.5" fill="#bebca8"/><circle cx="111.4" cy="61.7" r="0.5" fill="#c8c6b4"/><circle cx="139.6" cy="33" r="0.4" fill="#c8c6b4"/><circle cx="136.5" cy="31.5" r="0.5" fill="#bebca8"/><circle cx="126.1" cy="58.7" r="0.6" fill="#c8c6b4"/><circle cx="135" cy="30.9" r="0.4" fill="#c8c6b4"/><circle cx="163.4" cy="26.6" r="0.5" fill="#bebca8"/><circle cx="140.2" cy="25.2" r="0.5" fill="#c8c6b4"/><circle cx="121.3" cy="24.9" r="0.5" fill="#bebca8"/><circle cx="92.9" cy="28" r="0.6" fill="#bebca8"/><circle cx="103.7" cy="65.2" r="0.5" fill="#c8c6b4"/><circle cx="144.2" cy="32.5" r="0.3" fill="#c8c6b4"/><circle cx="105" cy="24" r="0.5" fill="#bebca8"/><circle cx="142.8" cy="45.8" r="0.4" fill="#bebca8"/><circle cx="108.9" cy="28.6" r="0.6" fill="#c8c6b4"/><circle cx="137.4" cy="37.4" r="0.3" fill="#bebca8"/><circle cx="138.3" cy="36.1" r="0.4" fill="#c8c6b4"/><circle cx="109.1" cy="58.5" r="0.4" fill="#c8c6b4"/><circle cx="134.1" cy="49.5" r="0.4" fill="#bebca8"/><circle cx="160.5" cy="44.5" r="0.6" fill="#bebca8"/><circle cx="131.8" cy="27.6" r="0.6" fill="#c8c6b4"/><circle cx="125.4" cy="38.5" r="0.3" fill="#c8c6b4"/><circle cx="155.3" cy="38.7" r="0.4" fill="#c8c6b4"/><circle cx="161.1" cy="68" r="0.3" fill="#bebca8"/><circle cx="152.4" cy="35.1" r="0.5" fill="#bebca8"/><circle cx="109.5" cy="23.1" r="0.6" fill="#c8c6b4"/><circle cx="111.3" cy="56.4" r="0.5" fill="#bebca8"/><circle cx="114.7" cy="51.9" r="0.5" fill="#bebca8"/><circle cx="115" cy="46.8" r="0.6" fill="#c8c6b4"/><circle cx="106" cy="38.7" r="0.3" fill="#bebca8"/><circle cx="147.8" cy="37.4" r="0.6" fill="#bebca8"/><circle cx="130.9" cy="62.4" r="0.4" fill="#c8c6b4"/><circle cx="107.7" cy="55.2" r="0.3" fill="#c8c6b4"/><circle cx="153.4" cy="25.7" r="0.4" fill="#c8c6b4"/><circle cx="139.2" cy="65.9" r="0.6" fill="#c8c6b4"/><circle cx="103.1" cy="51.6" r="0.4" fill="#bebca8"/><circle cx="142.8" cy="25.5" r="0.6" fill="#c8c6b4"/><circle cx="111" cy="25.9" r="0.4" fill="#c8c6b4"/><circle cx="159.6" cy="52.8" r="0.4" fill="#bebca8"/><circle cx="137.5" cy="52.1" r="0.5" fill="#c8c6b4"/><circle cx="106.7" cy="30.2" r="0.3" fill="#bebca8"/><circle cx="101.8" cy="23.3" r="0.5" fill="#c8c6b4"/><circle cx="135.2" cy="60.1" r="0.4" fill="#c8c6b4"/><circle cx="122.9" cy="56.9" r="0.3" fill="#c8c6b4"/><circle cx="142.7" cy="57.7" r="0.4" fill="#bebca8"/><circle cx="122.5" cy="52.5" r="0.5" fill="#c8c6b4"/><circle cx="104.9" cy="32.7" r="0.4" fill="#c8c6b4"/><circle cx="96.1" cy="46" r="0.4" fill="#bebca8"/><circle cx="109.2" cy="26.1" r="0.5" fill="#c8c6b4"/><circle cx="129.6" cy="47.8" r="0.3" fill="#bebca8"/><circle cx="161.9" cy="45" r="0.4" fill="#bebca8"/><circle cx="123.1" cy="60" r="0.3" fill="#c8c6b4"/><circle cx="162.1" cy="49.2" r="0.4" fill="#c8c6b4"/><circle cx="110.4" cy="56.9" r="0.3" fill="#bebca8"/><circle cx="96.1" cy="54.9" r="0.5" fill="#bebca8"/><circle cx="116.1" cy="32.8" r="0.4" fill="#c8c6b4"/><circle cx="163" cy="36.2" r="0.6" fill="#bebca8"/><circle cx="112" cy="23.5" r="0.5" fill="#bebca8"/><circle cx="150.8" cy="39.8" r="0.5" fill="#c8c6b4"/><circle cx="128.5" cy="68" r="0.5" fill="#c8c6b4"/><circle cx="144.4" cy="51.4" r="0.5" fill="#bebca8"/><circle cx="152.5" cy="43.3" r="0.5" fill="#bebca8"/><circle cx="98.5" cy="37" r="0.4" fill="#bebca8"/><circle cx="114.1" cy="33.4" r="0.3" fill="#bebca8"/><circle cx="131.8" cy="67.3" r="0.5" fill="#bebca8"/><circle cx="122.1" cy="31.6" r="0.4" fill="#bebca8"/><circle cx="158.9" cy="54.9" r="0.6" fill="#c8c6b4"/><circle cx="119.1" cy="20.9" r="0.5" fill="#c8c6b4"/><circle cx="127.8" cy="65.5" r="0.5" fill="#c8c6b4"/><circle cx="156.3" cy="39.4" r="0.4" fill="#c8c6b4"/><circle cx="120.3" cy="67.2" r="0.4" fill="#c8c6b4"/><circle cx="130.7" cy="22.3" r="0.3" fill="#c8c6b4"/><circle cx="147.9" cy="40.2" r="0.5" fill="#c8c6b4"/><circle cx="134.2" cy="58.6" r="0.5" fill="#c8c6b4"/><circle cx="155.8" cy="34.9" r="0.6" fill="#bebca8"/><circle cx="106" cy="24.5" r="0.3" fill="#c8c6b4"/><circle cx="164.9" cy="59.2" r="0.4" fill="#c8c6b4"/><circle cx="132.3" cy="54.7" r="0.4" fill="#c8c6b4"/><circle cx="113" cy="28.8" r="0.4" fill="#c8c6b4"/></g></g>
<g clip-path="url(#cs3)"><path d="M187,20.2 L249.6,20.2 C257,21 262.6,27 262.6,38 L262.6,58 C262.4,64 259,66.7 254,66.7 L178,66.7 C174,66.5 172.6,64 172.6,60 L172.6,40 C172.8,28 178,21 187,20.2 Z" fill="#b9c3a6"/><g filter="url(#bl2)"><circle cx="258.7" cy="50.8" r="1.8" fill="#56604a"/><circle cx="230" cy="53.8" r="1.6" fill="#2e3428"/><circle cx="178.2" cy="54.6" r="2.2" fill="#424a38"/><circle cx="206.5" cy="23.8" r="1.4" fill="#2e3428"/><circle cx="252.7" cy="49.3" r="2.8" fill="#4a5440"/><circle cx="242.7" cy="36.1" r="1.8" fill="#22261e"/><circle cx="212.5" cy="63.3" r="1.7" fill="#424a38"/><circle cx="192.5" cy="56.1" r="2.2" fill="#56604a"/><circle cx="254" cy="62.3" r="2.2" fill="#56604a"/><circle cx="218.5" cy="38.1" r="2.7" fill="#2e3428"/><circle cx="237.7" cy="58.1" r="2.4" fill="#424a38"/><circle cx="213.5" cy="24.8" r="2.1" fill="#56604a"/><circle cx="222.2" cy="28.8" r="2.5" fill="#56604a"/><circle cx="200.5" cy="61.6" r="1.6" fill="#4a5440"/><circle cx="241.5" cy="25.3" r="1.3" fill="#424a38"/><circle cx="233.5" cy="35.3" r="2.7" fill="#56604a"/><circle cx="208.7" cy="51.3" r="2.2" fill="#22261e"/><circle cx="199.7" cy="42.1" r="2.6" fill="#22261e"/><circle cx="200.7" cy="55.8" r="2.1" fill="#4a5440"/><circle cx="203.7" cy="30.3" r="2.4" fill="#424a38"/><circle cx="187.2" cy="30.3" r="2.8" fill="#424a38"/><circle cx="227.5" cy="60.3" r="1.3" fill="#3a4232"/><circle cx="246.2" cy="50.3" r="1.8" fill="#4a5440"/><circle cx="223" cy="53.6" r="2.2" fill="#22261e"/><circle cx="222.7" cy="47.6" r="2.7" fill="#4a5440"/><circle cx="234" cy="43.8" r="2.3" fill="#56604a"/><circle cx="257.2" cy="57.6" r="2.4" fill="#22261e"/><circle cx="219.5" cy="62.1" r="2.4" fill="#3a4232"/><circle cx="247.5" cy="39.8" r="1.8" fill="#424a38"/><circle cx="193.2" cy="26.6" r="2.5" fill="#56604a"/><circle cx="179" cy="47.1" r="2.7" fill="#424a38"/><circle cx="179" cy="31.8" r="2.5" fill="#424a38"/><circle cx="183.2" cy="38.3" r="2.5" fill="#22261e"/><circle cx="244.2" cy="57.3" r="2.9" fill="#4a5440"/><circle cx="187.7" cy="52.8" r="2.4" fill="#4a5440"/><circle cx="217" cy="53.3" r="2.5" fill="#56604a"/><circle cx="207.2" cy="61.1" r="2.7" fill="#424a38"/><circle cx="194.5" cy="32.3" r="1.9" fill="#2e3428"/><circle cx="183.2" cy="64.1" r="1.4" fill="#3a4232"/><circle cx="229.2" cy="27.6" r="2.9" fill="#3a4232"/><circle cx="249.5" cy="28.1" r="2" fill="#4a5440"/><circle cx="207.2" cy="35.3" r="2.1" fill="#4a5440"/><circle cx="237.5" cy="47.8" r="1.2" fill="#2e3428"/><circle cx="254" cy="34.1" r="2.6" fill="#3a4232"/><circle cx="198.2" cy="27.1" r="1.3" fill="#424a38"/><circle cx="189.2" cy="45.3" r="2.1" fill="#4a5440"/><circle cx="210.7" cy="41.3" r="2.3" fill="#3a4232"/><circle cx="210.2" cy="29.1" r="2.3" fill="#424a38"/><circle cx="235.2" cy="29.6" r="1.9" fill="#4a5440"/><circle cx="195" cy="51.8" r="1.5" fill="#2e3428"/><circle cx="212.7" cy="35.3" r="1.2" fill="#56604a"/><circle cx="255.5" cy="40.8" r="2.9" fill="#4a5440"/><circle cx="190" cy="38.3" r="2.4" fill="#4a5440"/><circle cx="200.2" cy="49.1" r="2.5" fill="#3a4232"/><circle cx="201.2" cy="36.6" r="1.9" fill="#4a5440"/><circle cx="235.2" cy="52.3" r="2.8" fill="#56604a"/><circle cx="190.5" cy="62.3" r="2.1" fill="#424a38"/><circle cx="231.7" cy="62.8" r="2.3" fill="#4a5440"/><circle cx="212.2" cy="59.1" r="1.5" fill="#56604a"/><circle cx="229" cy="47.1" r="2.3" fill="#22261e"/><circle cx="178.5" cy="60.8" r="2.4" fill="#22261e"/><circle cx="244.7" cy="43.6" r="1.8" fill="#2e3428"/><circle cx="224.2" cy="35.1" r="2.2" fill="#424a38"/><circle cx="248.2" cy="62.8" r="2.3" fill="#3a4232"/><circle cx="217" cy="47.6" r="2" fill="#3a4232"/><circle cx="226.7" cy="40.8" r="2.9" fill="#4a5440"/><circle cx="209.7" cy="46.8" r="1.2" fill="#424a38"/><circle cx="256" cy="28.3" r="2.4" fill="#424a38"/><circle cx="239" cy="63.3" r="1.4" fill="#424a38"/><circle cx="177" cy="39.8" r="2" fill="#56604a"/><circle cx="216" cy="31.3" r="2.5" fill="#3a4232"/><circle cx="239.7" cy="40.6" r="2.4" fill="#3a4232"/><circle cx="182.5" cy="26.1" r="2.6" fill="#2e3428"/><circle cx="237" cy="24.1" r="2.4" fill="#3a4232"/><circle cx="241" cy="30.6" r="2.9" fill="#3a4232"/><circle cx="184" cy="57.6" r="2.4" fill="#4a5440"/><circle cx="194.7" cy="46.8" r="2.4" fill="#3a4232"/><circle cx="205.7" cy="40.3" r="1.7" fill="#3a4232"/><circle cx="205.2" cy="45.8" r="1.9" fill="#22261e"/><circle cx="250.7" cy="56.1" r="2.7" fill="#4a5440"/><circle cx="241.7" cy="47.8" r="1.9" fill="#4a5440"/><circle cx="225.5" cy="23.3" r="1.5" fill="#2e3428"/><circle cx="247.7" cy="33.6" r="2.6" fill="#2e3428"/><circle cx="246" cy="24.6" r="1.9" fill="#424a38"/><circle cx="195.7" cy="37.6" r="2.4" fill="#424a38"/><circle cx="188.5" cy="24.1" r="1.8" fill="#22261e"/><circle cx="201.7" cy="24.1" r="2.3" fill="#22261e"/><circle cx="259.2" cy="45.8" r="1.5" fill="#56604a"/><circle cx="219" cy="24.1" r="2.3" fill="#22261e"/><circle cx="195.5" cy="60.8" r="2.2" fill="#4a5440"/><circle cx="184.7" cy="44.3" r="1.4" fill="#56604a"/><circle cx="250" cy="44.1" r="2.1" fill="#56604a"/><circle cx="259.2" cy="36.1" r="1.9" fill="#22261e"/><circle cx="217.5" cy="43.3" r="1.2" fill="#4a5440"/><circle cx="182.5" cy="51.6" r="2" fill="#22261e"/><circle cx="205.7" cy="55.6" r="1.9" fill="#3a4232"/><circle cx="224.7" cy="63.6" r="1.9" fill="#3a4232"/><circle cx="241" cy="52.6" r="1.9" fill="#22261e"/><circle cx="223.7" cy="58.6" r="1.9" fill="#22261e"/><circle cx="232.5" cy="57.6" r="1.8" fill="#22261e"/><circle cx="243.2" cy="63.6" r="1.8" fill="#4a5440"/><circle cx="252.5" cy="24.3" r="1.8" fill="#3a4232"/><circle cx="185.7" cy="48.6" r="1.3" fill="#424a38"/><circle cx="199" cy="32.1" r="1.6" fill="#2e3428"/><circle cx="216.2" cy="58.3" r="1.6" fill="#3a4232"/><circle cx="228.7" cy="33.1" r="1.6" fill="#56604a"/><circle cx="213" cy="49.1" r="1.2" fill="#424a38"/><circle cx="212" cy="54.8" r="1.6" fill="#22261e"/><circle cx="193.2" cy="42.1" r="1.5" fill="#424a38"/><circle cx="221.2" cy="42.6" r="1.5" fill="#4a5440"/><circle cx="197" cy="23.3" r="1.5" fill="#424a38"/><circle cx="227" cy="51.3" r="1.3" fill="#2e3428"/><circle cx="232.2" cy="23.1" r="1.4" fill="#22261e"/><circle cx="175.5" cy="50.8" r="1.4" fill="#424a38"/><circle cx="213.2" cy="45.3" r="1.4" fill="#56604a"/><circle cx="238.5" cy="35.8" r="1.3" fill="#22261e"/><circle cx="176" cy="35.6" r="1.3" fill="#3a4232"/><circle cx="258.5" cy="62.1" r="1.3" fill="#424a38"/><circle cx="259.2" cy="31.8" r="1.3" fill="#3a4232"/><circle cx="180.5" cy="42.3" r="1.2" fill="#56604a"/><circle cx="227.5" cy="56.8" r="1.2" fill="#424a38"/><circle cx="191" cy="49.6" r="1.2" fill="#4a5440"/><circle cx="186.2" cy="61.8" r="1.2" fill="#22261e"/><circle cx="183.5" cy="33.6" r="1.2" fill="#4a5440"/><circle cx="204.2" cy="51.6" r="1.2" fill="#22261e"/><circle cx="251.2" cy="38.1" r="1.2" fill="#56604a"/><circle cx="220.2" cy="33.3" r="1.2" fill="#22261e"/><circle cx="188.5" cy="58.6" r="1.2" fill="#4a5440"/><circle cx="220" cy="57.1" r="1.2" fill="#22261e"/><circle cx="203.2" cy="64.3" r="1.1" fill="#56604a"/><circle cx="175.2" cy="43.8" r="1.1" fill="#22261e"/><circle cx="190.7" cy="33.8" r="1.1" fill="#22261e"/><circle cx="231.7" cy="39.8" r="1.1" fill="#3a4232"/><circle cx="260.2" cy="42.3" r="1.1" fill="#22261e"/><circle cx="255.2" cy="53.6" r="1.1" fill="#4a5440"/><circle cx="198" cy="64.3" r="1.1" fill="#4a5440"/><circle cx="186.5" cy="35.1" r="1.1" fill="#2e3428"/><circle cx="196.7" cy="56.8" r="1" fill="#3a4232"/><circle cx="209.7" cy="22.8" r="1" fill="#2e3428"/><circle cx="245.5" cy="28.6" r="1" fill="#424a38"/><circle cx="175.2" cy="57.6" r="1" fill="#4a5440"/><circle cx="186.7" cy="41.3" r="1" fill="#56604a"/><circle cx="260.2" cy="54.3" r="1" fill="#4a5440"/><circle cx="235.7" cy="64.3" r="1" fill="#56604a"/><circle cx="238.5" cy="44.8" r="1" fill="#2e3428"/><circle cx="235.5" cy="39.6" r="1" fill="#424a38"/><circle cx="179.2" cy="36.3" r="0.9" fill="#4a5440"/><circle cx="229" cy="36.6" r="0.9" fill="#22261e"/><circle cx="215" cy="41.3" r="0.9" fill="#22261e"/><circle cx="233.2" cy="48.1" r="0.9" fill="#4a5440"/><circle cx="213.7" cy="38.3" r="0.9" fill="#424a38"/><circle cx="216" cy="64.6" r="0.9" fill="#4a5440"/><circle cx="193.7" cy="64.6" r="0.9" fill="#56604a"/><circle cx="255.7" cy="45.6" r="0.9" fill="#424a38"/><circle cx="229" cy="22.6" r="0.9" fill="#56604a"/><circle cx="206.5" cy="27.1" r="0.9" fill="#3a4232"/><circle cx="203" cy="59.1" r="0.9" fill="#424a38"/><circle cx="178.2" cy="27.3" r="0.8" fill="#424a38"/><circle cx="226" cy="31.1" r="0.8" fill="#424a38"/><circle cx="247" cy="46.8" r="0.8" fill="#3a4232"/><rect x="172" y="61" width="92" height="7" fill="#6a6250" opacity="0.45"/></g></g>
<g clip-path="url(#cs4)"><path d="M272.7,65.4 C272.4,63.7 270.9,58.2 270.6,55.0 C270.3,51.8 270.2,48.8 270.8,46.0 C271.4,43.2 271.6,41.4 274.0,38.4 C276.4,35.4 280.1,30.8 285.4,28.2 C290.7,25.6 297.3,24.0 305.8,23.1 C314.3,22.2 327.0,22.0 336.3,22.6 C345.6,23.2 355.0,24.7 361.8,26.9 C368.6,29.1 373.4,32.2 377.0,35.8 C380.6,39.4 382.4,44.5 383.4,48.5 C384.4,52.5 383.3,57.2 382.8,60.0 C382.3,62.8 380.9,64.5 380.5,65.4 Z" fill="#8daa78"/><g filter="url(#bl)"><ellipse cx="327" cy="45" rx="50" ry="17" fill="#aab89a"/><ellipse cx="313.6" cy="43" rx="8" ry="6.6" fill="#5e5a4c" stroke="#b9c2a8" stroke-width="0.7"/><ellipse cx="281.2" cy="47.5" rx="5" ry="6" fill="#555246" stroke="#b9c2a8" stroke-width="0.7"/><ellipse cx="298.9" cy="53.4" rx="7" ry="4.5" fill="#5a574a" stroke="#b9c2a8" stroke-width="0.7"/><ellipse cx="296" cy="34.2" rx="3.7" ry="3" fill="#4a4840" stroke="#b9c2a8" stroke-width="0.7"/><ellipse cx="307.7" cy="33.5" rx="3.2" ry="2.6" fill="#1a1a18" stroke="#b9c2a8" stroke-width="0.7"/><ellipse cx="301.8" cy="42.3" rx="2.2" ry="3" fill="#161614" stroke="#b9c2a8" stroke-width="0.7"/><ellipse cx="289.3" cy="42.3" rx="1.8" ry="1.8" fill="#222" stroke="#b9c2a8" stroke-width="0.7"/><ellipse cx="326.2" cy="37.2" rx="3" ry="3" fill="#1a1a18" stroke="#b9c2a8" stroke-width="0.7"/><ellipse cx="323.2" cy="52.6" rx="3" ry="6" fill="#1a1a18" stroke="#b9c2a8" stroke-width="0.7"/><ellipse cx="282.7" cy="60.7" rx="2.2" ry="2.2" fill="#5a5a4a" stroke="#b9c2a8" stroke-width="0.7"/><ellipse cx="296.7" cy="60.7" rx="2.6" ry="2.6" fill="#5a5a4a" stroke="#b9c2a8" stroke-width="0.7"/><ellipse cx="304.8" cy="60.7" rx="2.6" ry="2.6" fill="#5a5a4a" stroke="#b9c2a8" stroke-width="0.7"/><ellipse cx="315.8" cy="57.8" rx="1.8" ry="1.8" fill="#1e1e1a" stroke="#b9c2a8" stroke-width="0.7"/><ellipse cx="287.1" cy="37.2" rx="3" ry="3" fill="#5a5a4a" stroke="#b9c2a8" stroke-width="0.7"/><ellipse cx="322.5" cy="26.8" rx="2.2" ry="2.2" fill="#7a8868" stroke="#b9c2a8" stroke-width="0.7"/><ellipse cx="355.2" cy="49.7" rx="5.2" ry="4.4" fill="#252520" stroke="#b9c2a8" stroke-width="0.7"/><ellipse cx="368.5" cy="51.2" rx="5.2" ry="5.9" fill="#2a2a24" stroke="#b9c2a8" stroke-width="0.7"/><ellipse cx="360.4" cy="60" rx="5.9" ry="3.7" fill="#1e1e1a" stroke="#b9c2a8" stroke-width="0.7"/><ellipse cx="344.2" cy="53.4" rx="3.2" ry="3.7" fill="#1a1a16" stroke="#b9c2a8" stroke-width="0.7"/><ellipse cx="355.2" cy="36.4" rx="3.7" ry="2.6" fill="#1e1e1a" stroke="#b9c2a8" stroke-width="0.7"/><ellipse cx="342" cy="35.7" rx="3.7" ry="2.2" fill="#1e1e1a" stroke="#b9c2a8" stroke-width="0.7"/><ellipse cx="336.8" cy="29.8" rx="2.6" ry="2.6" fill="#333" stroke="#b9c2a8" stroke-width="0.7"/><ellipse cx="336" cy="49" rx="2.2" ry="2.2" fill="#1a1a18" stroke="#b9c2a8" stroke-width="0.7"/><ellipse cx="347.1" cy="62.2" rx="2.6" ry="2.6" fill="#333" stroke="#b9c2a8" stroke-width="0.7"/><ellipse cx="329.4" cy="54.8" rx="3.7" ry="3.7" fill="#5a5a4a" stroke="#b9c2a8" stroke-width="0.7"/><ellipse cx="344.2" cy="44.5" rx="3.2" ry="3.2" fill="#6a6a58" stroke="#b9c2a8" stroke-width="0.7"/><ellipse cx="361.1" cy="40.8" rx="3.7" ry="3.7" fill="#6a6a58" stroke="#b9c2a8" stroke-width="0.7"/><ellipse cx="338.3" cy="40.1" rx="2.2" ry="2.2" fill="#5a5a4a" stroke="#b9c2a8" stroke-width="0.7"/><ellipse cx="372.2" cy="43" rx="2.2" ry="2.2" fill="#6a6a58" stroke="#b9c2a8" stroke-width="0.7"/><ellipse cx="347.1" cy="28.3" rx="2.9" ry="2.9" fill="#7a8868" stroke="#b9c2a8" stroke-width="0.7"/><ellipse cx="361.8" cy="34.2" rx="2.9" ry="2.9" fill="#7a8868" stroke="#b9c2a8" stroke-width="0.7"/><ellipse cx="333.8" cy="60.7" rx="3.7" ry="3.7" fill="#6a7a5a" stroke="#b9c2a8" stroke-width="0.7"/><circle cx="330.5" cy="30.4" r="2.3" fill="#727262"/><circle cx="378" cy="52.9" r="3.1" fill="#6a685a"/><circle cx="316.7" cy="29.4" r="2.1" fill="#4e4c42"/><circle cx="328.2" cy="45.9" r="1.5" fill="#727262"/><circle cx="368.5" cy="37.4" r="3.2" fill="#57584a"/><circle cx="276.7" cy="57.6" r="2.2" fill="#2a2a22"/><circle cx="296.5" cy="40.9" r="2.5" fill="#5f5c50"/><circle cx="312" cy="53.6" r="3.2" fill="#57584a"/><circle cx="301.7" cy="28.4" r="2.2" fill="#6a685a"/><circle cx="288.5" cy="58.6" r="3.2" fill="#5f5c50"/><circle cx="332.2" cy="42.4" r="3.2" fill="#6a685a"/><circle cx="349.7" cy="40.6" r="2.1" fill="#4e4c42"/><circle cx="375.5" cy="60.1" r="2.9" fill="#2a2a22"/><circle cx="320.2" cy="34.1" r="3.1" fill="#727262"/><circle cx="335.5" cy="53.6" r="1.8" fill="#727262"/><circle cx="289.7" cy="47.4" r="2.5" fill="#45443a"/><circle cx="354" cy="30.1" r="2.8" fill="#45443a"/><circle cx="377.7" cy="45.9" r="2.3" fill="#6a685a"/><circle cx="311.2" cy="60.9" r="1.9" fill="#45443a"/><circle cx="311.2" cy="27.9" r="2.9" fill="#2a2a22"/><circle cx="326.7" cy="42.6" r="1.4" fill="#4e4c42"/><circle cx="350.2" cy="56.6" r="2.9" fill="#6a685a"/><circle cx="341" cy="60.1" r="2.9" fill="#6a685a"/><circle cx="332.7" cy="35.9" r="2.6" fill="#6a685a"/><circle cx="280.7" cy="37.9" r="2.4" fill="#2a2a22"/><circle cx="354.5" cy="41.9" r="2.1" fill="#45443a"/><circle cx="289.2" cy="31.6" r="2.3" fill="#6a685a"/><circle cx="294.7" cy="46.6" r="1.8" fill="#2a2a22"/><circle cx="325.5" cy="31.4" r="2.2" fill="#5f5c50"/><circle cx="327.2" cy="60.9" r="2.2" fill="#45443a"/><circle cx="319.2" cy="60.9" r="2.1" fill="#727262"/><circle cx="287.7" cy="52.6" r="2.1" fill="#6a685a"/><circle cx="314.7" cy="33.4" r="1.8" fill="#1e1e1a"/><circle cx="274.7" cy="52.9" r="2.1" fill="#1e1e1a"/><circle cx="341.5" cy="27.4" r="2.1" fill="#57584a"/><circle cx="317.5" cy="51.6" r="2" fill="#57584a"/><circle cx="349.2" cy="33.4" r="2" fill="#4e4c42"/><circle cx="331.2" cy="48.6" r="2" fill="#2a2a22"/><circle cx="327.2" cy="26.6" r="1.9" fill="#57584a"/><circle cx="338.5" cy="44.9" r="1.9" fill="#5f5c50"/><circle cx="370" cy="61.4" r="1.9" fill="#5f5c50"/><circle cx="374" cy="38.6" r="1.8" fill="#727262"/><circle cx="296" cy="28.9" r="1.7" fill="#5f5c50"/><circle cx="283.2" cy="56.1" r="1.8" fill="#45443a"/><circle cx="333" cy="26.4" r="1.8" fill="#45443a"/><circle cx="292" cy="38.9" r="1.5" fill="#1e1e1a"/><circle cx="302.5" cy="36.1" r="1.8" fill="#1e1e1a"/><circle cx="366.7" cy="42.9" r="1.7" fill="#4e4c42"/><circle cx="340.5" cy="48.6" r="1.7" fill="#57584a"/><circle cx="304.2" cy="47.4" r="1.7" fill="#1e1e1a"/><circle cx="362.2" cy="46.6" r="1.6" fill="#1e1e1a"/><circle cx="306" cy="27.1" r="1.6" fill="#45443a"/><circle cx="361.5" cy="54.1" r="1.6" fill="#5f5c50"/><circle cx="298.7" cy="46.6" r="1.6" fill="#2a2a22"/><circle cx="349.7" cy="44.9" r="1.6" fill="#4e4c42"/><circle cx="343" cy="31.4" r="1.6" fill="#5f5c50"/><circle cx="307.7" cy="56.9" r="1.5" fill="#57584a"/><circle cx="278.5" cy="61.6" r="1.5" fill="#5f5c50"/><circle cx="345.7" cy="39.4" r="1.5" fill="#2a2a22"/><circle cx="277" cy="40.6" r="1.5" fill="#45443a"/><circle cx="339" cy="55.6" r="1.5" fill="#57584a"/><circle cx="347.5" cy="48.6" r="1.5" fill="#727262"/><circle cx="376.7" cy="41.6" r="1.5" fill="#6a685a"/><circle cx="359" cy="30.1" r="1.4" fill="#45443a"/><circle cx="274.2" cy="48.6" r="1.4" fill="#45443a"/><circle cx="307.7" cy="50.1" r="1.4" fill="#6a685a"/><circle cx="351.7" cy="61.6" r="1.4" fill="#57584a"/><circle cx="315" cy="61.6" r="1.4" fill="#5f5c50"/><circle cx="339" cy="52.1" r="1.4" fill="#727262"/><circle cx="284.2" cy="33.1" r="1.4" fill="#5f5c50"/><circle cx="275" cy="43.9" r="1.3" fill="#1e1e1a"/><circle cx="366.5" cy="32.6" r="1.3" fill="#6a685a"/><circle cx="323.7" cy="41.4" r="1.3" fill="#4e4c42"/><circle cx="318.5" cy="25.9" r="1.2" fill="#4e4c42"/><circle cx="318.5" cy="55.4" r="1.2" fill="#5f5c50"/><circle cx="302.2" cy="32.4" r="1.2" fill="#2a2a22"/><circle cx="305.7" cy="37.6" r="1.2" fill="#6a685a"/><circle cx="292.7" cy="43.4" r="1.2" fill="#2a2a22"/><circle cx="292.5" cy="29.1" r="1.2" fill="#6a685a"/><circle cx="292.5" cy="61.9" r="1.2" fill="#5f5c50"/><circle cx="379.5" cy="57.6" r="1.2" fill="#727262"/><circle cx="342.5" cy="39.6" r="1.1" fill="#2a2a22"/><circle cx="348.2" cy="37.1" r="1.1" fill="#4e4c42"/><circle cx="354.7" cy="55.9" r="1.1" fill="#57584a"/><circle cx="323" cy="62.1" r="1.1" fill="#5f5c50"/><circle cx="275.2" cy="61.4" r="1.1" fill="#2a2a22"/><circle cx="300.7" cy="62.1" r="1.1" fill="#1e1e1a"/><circle cx="327.7" cy="49.6" r="1.1" fill="#2a2a22"/><circle cx="315.5" cy="25.9" r="1.1" fill="#6a685a"/><circle cx="299.5" cy="37.9" r="1" fill="#45443a"/><circle cx="285.7" cy="41.6" r="1" fill="#1e1e1a"/><circle cx="375.2" cy="48.9" r="1" fill="#6a685a"/><circle cx="300.7" cy="59.4" r="1" fill="#2a2a22"/><circle cx="374.2" cy="55.6" r="1" fill="#1e1e1a"/><circle cx="293.2" cy="58.4" r="1" fill="#2a2a22"/><circle cx="280" cy="55.4" r="0.9" fill="#727262"/><circle cx="374" cy="46.6" r="0.9" fill="#727262"/><circle cx="371.5" cy="58.1" r="0.9" fill="#2a2a22"/><circle cx="380.2" cy="48.9" r="0.9" fill="#1e1e1a"/><circle cx="349" cy="52.4" r="0.9" fill="#6a685a"/></g></g>
<g clip-path="url(#cs5)"><path d="M390.9,65.9 C390.8,63.6 390.6,56.3 390.6,52.0 C390.6,47.7 390.2,43.4 390.9,40.1 C391.5,36.8 392.5,34.1 394.5,32.0 C396.5,29.9 398.1,28.7 402.7,27.6 C407.2,26.5 413.9,25.9 421.8,25.4 C429.7,24.9 442.4,24.6 450.0,24.6 C457.6,24.6 461.1,24.3 467.1,25.2 C473.2,26.1 481.2,27.8 486.3,29.8 C491.4,31.8 494.8,34.2 498.0,37.2 C501.2,40.2 503.7,44.1 505.4,47.5 C507.1,50.9 507.9,55.1 508.2,57.8 C508.4,60.5 507.4,62.4 506.9,63.7 C506.4,65.1 505.3,65.5 505.0,65.9 Z" fill="#7d857a"/><g filter="url(#bl)"><path d="M390.9,65.9 C390.8,63.6 390.6,56.3 390.6,52.0 C390.6,47.7 390.2,43.4 390.9,40.1 C391.5,36.8 392.5,34.1 394.5,32.0 C396.5,29.9 398.1,28.7 402.7,27.6 C407.2,26.5 413.9,25.9 421.8,25.4 C429.7,24.9 442.4,24.6 450.0,24.6 C457.6,24.6 461.1,24.3 467.1,25.2 C473.2,26.1 481.2,27.8 486.3,29.8 C491.4,31.8 494.8,34.2 498.0,37.2 C501.2,40.2 503.7,44.1 505.4,47.5 C507.1,50.9 507.9,55.1 508.2,57.8 C508.4,60.5 507.4,62.4 506.9,63.7 C506.4,65.1 505.3,65.5 505.0,65.9 Z" fill="none" stroke="#b8c0b2" stroke-width="3" opacity="0.8"/><ellipse cx="500" cy="50" rx="10" ry="18" fill="#646a5a" opacity="0.7"/><ellipse cx="408.6" cy="45.3" rx="8.1" ry="8.8" fill="#232320" stroke="#b4baac" stroke-width="1.1"/><ellipse cx="429.2" cy="45.3" rx="11" ry="11.8" fill="#252522" stroke="#b4baac" stroke-width="1.1"/><ellipse cx="447.5" cy="45" rx="5.5" ry="8.8" fill="#33332e" stroke="#b4baac" stroke-width="1.1"/><ellipse cx="416" cy="60" rx="5.9" ry="3.2" fill="#55554c" stroke="#b4baac" stroke-width="1.1"/><ellipse cx="405.6" cy="60.7" rx="3.7" ry="2.2" fill="#44443c" stroke="#b4baac" stroke-width="1.1"/><ellipse cx="429.2" cy="61.5" rx="3.7" ry="2.2" fill="#3a3a34" stroke="#b4baac" stroke-width="1.1"/><ellipse cx="396.8" cy="51.9" rx="3.7" ry="3.7" fill="#6a7064" stroke="#b4baac" stroke-width="1.1"/><ellipse cx="401.2" cy="37.2" rx="2.2" ry="2.2" fill="#6a7064" stroke="#b4baac" stroke-width="1.1"/><ellipse cx="417.4" cy="32" rx="2.6" ry="2.6" fill="#6a7064" stroke="#b4baac" stroke-width="1.1"/><ellipse cx="463.4" cy="42.3" rx="5.9" ry="9.6" fill="#5a5a50" stroke="#b4baac" stroke-width="1.1"/><ellipse cx="479.6" cy="54.1" rx="7.4" ry="5.2" fill="#232320" stroke="#b4baac" stroke-width="1.1"/><ellipse cx="449.4" cy="59" rx="5.2" ry="3.5" fill="#2a2a26" stroke="#b4baac" stroke-width="1.1"/><ellipse cx="460.5" cy="60.7" rx="2.6" ry="2.6" fill="#141412" stroke="#b4baac" stroke-width="1.1"/><ellipse cx="473.7" cy="40.1" rx="2.6" ry="2.6" fill="#1e1e1a" stroke="#b4baac" stroke-width="1.1"/><ellipse cx="486.3" cy="46" rx="2.6" ry="2.6" fill="#1e1e1a" stroke="#b4baac" stroke-width="1.1"/><ellipse cx="495.9" cy="49.7" rx="5.2" ry="4.4" fill="#4a4a42" stroke="#b4baac" stroke-width="1.1"/><ellipse cx="478.9" cy="35" rx="5.9" ry="3.7" fill="#5a5a50" stroke="#b4baac" stroke-width="1.1"/><ellipse cx="493.6" cy="60.7" rx="2.6" ry="2.6" fill="#5a5a50" stroke="#b4baac" stroke-width="1.1"/><ellipse cx="465.6" cy="58.5" rx="1.5" ry="1.5" fill="#1e1e1a" stroke="#b4baac" stroke-width="1.1"/><circle cx="487.6" cy="40.7" r="2.4" fill="#4a4c44" stroke="#aab0a2" stroke-width="0.5"/><circle cx="501.6" cy="57.2" r="2.8" fill="#3a3c36" stroke="#aab0a2" stroke-width="0.5"/><circle cx="396.6" cy="57.2" r="0.8" fill="#3a3c36" stroke="#aab0a2" stroke-width="0.5"/><circle cx="406.9" cy="31.9" r="2.8" fill="#5a5e54" stroke="#aab0a2" stroke-width="0.5"/><circle cx="426.4" cy="30.2" r="2.5" fill="#4a4c44" stroke="#aab0a2" stroke-width="0.5"/><circle cx="497.6" cy="43.9" r="1" fill="#3a3c36" stroke="#aab0a2" stroke-width="0.5"/><circle cx="452.4" cy="32.2" r="3" fill="#5a5e54" stroke="#aab0a2" stroke-width="0.5"/><circle cx="472.1" cy="46.2" r="2.2" fill="#4a4c44" stroke="#aab0a2" stroke-width="0.5"/><circle cx="455.9" cy="38.2" r="1.4" fill="#5a5e54" stroke="#aab0a2" stroke-width="0.5"/><circle cx="442.4" cy="32.4" r="1.8" fill="#62685c" stroke="#aab0a2" stroke-width="0.5"/><circle cx="479.6" cy="43.9" r="3.2" fill="#2e302a" stroke="#aab0a2" stroke-width="0.5"/><circle cx="470.6" cy="29.7" r="1.1" fill="#62685c" stroke="#aab0a2" stroke-width="0.5"/><circle cx="470.9" cy="61.9" r="1.1" fill="#62685c" stroke="#aab0a2" stroke-width="0.5"/><circle cx="446.9" cy="30.4" r="1.9" fill="#2e302a" stroke="#aab0a2" stroke-width="0.5"/><circle cx="399.6" cy="62.4" r="0.7" fill="#62685c" stroke="#aab0a2" stroke-width="0.5"/><circle cx="435.9" cy="60.2" r="0.7" fill="#5a5e54" stroke="#aab0a2" stroke-width="0.5"/><circle cx="437.9" cy="31.9" r="1.3" fill="#62685c" stroke="#aab0a2" stroke-width="0.5"/><circle cx="397.1" cy="42.4" r="3.1" fill="#2e302a" stroke="#aab0a2" stroke-width="0.5"/><circle cx="492.4" cy="41.7" r="1.5" fill="#4a4c44" stroke="#aab0a2" stroke-width="0.5"/><circle cx="454.6" cy="53.2" r="2.2" fill="#5a5e54" stroke="#aab0a2" stroke-width="0.5"/><circle cx="395.1" cy="59.9" r="1.2" fill="#4a4c44" stroke="#aab0a2" stroke-width="0.5"/><circle cx="441.1" cy="52.7" r="1.2" fill="#3a3c36" stroke="#aab0a2" stroke-width="0.5"/><circle cx="492.4" cy="37.9" r="1.5" fill="#2e302a" stroke="#aab0a2" stroke-width="0.5"/><circle cx="434.4" cy="29.9" r="1.8" fill="#4a4c44" stroke="#aab0a2" stroke-width="0.5"/><circle cx="402.1" cy="56.7" r="1.4" fill="#2e302a" stroke="#aab0a2" stroke-width="0.5"/><circle cx="441.1" cy="59.9" r="1.5" fill="#62685c" stroke="#aab0a2" stroke-width="0.5"/><circle cx="487.4" cy="60.9" r="2.3" fill="#3a3c36" stroke="#aab0a2" stroke-width="0.5"/><circle cx="458.6" cy="29.4" r="2.5" fill="#4a4c44" stroke="#aab0a2" stroke-width="0.5"/><circle cx="440.9" cy="38.9" r="0.9" fill="#62685c" stroke="#aab0a2" stroke-width="0.5"/><circle cx="417.1" cy="53.4" r="2.7" fill="#3a3c36" stroke="#aab0a2" stroke-width="0.5"/><circle cx="475.1" cy="61.7" r="2.5" fill="#4a4c44" stroke="#aab0a2" stroke-width="0.5"/><circle cx="416.9" cy="37.4" r="2" fill="#2e302a" stroke="#aab0a2" stroke-width="0.5"/><circle cx="454.9" cy="27.9" r="0.9" fill="#62685c" stroke="#aab0a2" stroke-width="0.5"/><circle cx="459.4" cy="55.2" r="2.5" fill="#3a3c36" stroke="#aab0a2" stroke-width="0.5"/><circle cx="467.9" cy="54.7" r="2.4" fill="#3a3c36" stroke="#aab0a2" stroke-width="0.5"/><circle cx="438.4" cy="56.4" r="2.2" fill="#3a3c36" stroke="#aab0a2" stroke-width="0.5"/><circle cx="480.4" cy="61.7" r="1.7" fill="#62685c" stroke="#aab0a2" stroke-width="0.5"/><circle cx="490.9" cy="55.9" r="2.4" fill="#3a3c36" stroke="#aab0a2" stroke-width="0.5"/><circle cx="399.6" cy="33.2" r="0.8" fill="#5a5e54" stroke="#aab0a2" stroke-width="0.5"/><circle cx="412.1" cy="33.9" r="2.3" fill="#5a5e54" stroke="#aab0a2" stroke-width="0.5"/><circle cx="469.9" cy="34.2" r="1" fill="#4a4c44" stroke="#aab0a2" stroke-width="0.5"/><circle cx="396.1" cy="36.7" r="2.2" fill="#4a4c44" stroke="#aab0a2" stroke-width="0.5"/><circle cx="439.1" cy="35.7" r="1.6" fill="#62685c" stroke="#aab0a2" stroke-width="0.5"/><circle cx="455.6" cy="48.4" r="2.2" fill="#5a5e54" stroke="#aab0a2" stroke-width="0.5"/><circle cx="498.9" cy="61.9" r="2.1" fill="#5a5e54" stroke="#aab0a2" stroke-width="0.5"/><circle cx="466.6" cy="29.4" r="2.1" fill="#5a5e54" stroke="#aab0a2" stroke-width="0.5"/><circle cx="488.9" cy="35.7" r="2.1" fill="#2e302a" stroke="#aab0a2" stroke-width="0.5"/><circle cx="439.9" cy="28.4" r="1.9" fill="#3a3c36" stroke="#aab0a2" stroke-width="0.5"/><circle cx="408.9" cy="56.2" r="1.3" fill="#3a3c36" stroke="#aab0a2" stroke-width="0.5"/><circle cx="467.1" cy="62.2" r="2" fill="#62685c" stroke="#aab0a2" stroke-width="0.5"/><circle cx="470.9" cy="58.7" r="1.6" fill="#3a3c36" stroke="#aab0a2" stroke-width="0.5"/><circle cx="421.6" cy="29.2" r="1.9" fill="#3a3c36" stroke="#aab0a2" stroke-width="0.5"/><circle cx="470.1" cy="50.4" r="1.9" fill="#3a3c36" stroke="#aab0a2" stroke-width="0.5"/><circle cx="412.9" cy="29.7" r="1.2" fill="#5a5e54" stroke="#aab0a2" stroke-width="0.5"/><circle cx="496.4" cy="40.7" r="1.9" fill="#2e302a" stroke="#aab0a2" stroke-width="0.5"/><circle cx="503.4" cy="62.2" r="1.9" fill="#3a3c36" stroke="#aab0a2" stroke-width="0.5"/><circle cx="455.1" cy="41.9" r="1.9" fill="#62685c" stroke="#aab0a2" stroke-width="0.5"/><circle cx="496.4" cy="56.4" r="1.8" fill="#3a3c36" stroke="#aab0a2" stroke-width="0.5"/><circle cx="394.1" cy="62.7" r="0.8" fill="#5a5e54" stroke="#aab0a2" stroke-width="0.5"/><circle cx="503.1" cy="52.4" r="1.6" fill="#3a3c36" stroke="#aab0a2" stroke-width="0.5"/><circle cx="438.1" cy="62.4" r="1.8" fill="#62685c" stroke="#aab0a2" stroke-width="0.5"/><circle cx="398.9" cy="60.2" r="1.1" fill="#62685c" stroke="#aab0a2" stroke-width="0.5"/><circle cx="456.1" cy="61.9" r="0.8" fill="#2e302a" stroke="#aab0a2" stroke-width="0.5"/><circle cx="422.4" cy="33.2" r="1.6" fill="#2e302a" stroke="#aab0a2" stroke-width="0.5"/><circle cx="405.9" cy="56.7" r="1.1" fill="#4a4c44" stroke="#aab0a2" stroke-width="0.5"/><circle cx="394.1" cy="46.7" r="1.6" fill="#62685c" stroke="#aab0a2" stroke-width="0.5"/><circle cx="483.6" cy="41.2" r="1" fill="#4a4c44" stroke="#aab0a2" stroke-width="0.5"/><circle cx="442.6" cy="55.7" r="1.6" fill="#5a5e54" stroke="#aab0a2" stroke-width="0.5"/><circle cx="457.1" cy="34.2" r="1.6" fill="#4a4c44" stroke="#aab0a2" stroke-width="0.5"/><circle cx="463.9" cy="55.4" r="1.1" fill="#5a5e54" stroke="#aab0a2" stroke-width="0.5"/><circle cx="473.9" cy="30.2" r="1.6" fill="#5a5e54" stroke="#aab0a2" stroke-width="0.5"/><circle cx="430.6" cy="28.7" r="1.6" fill="#5a5e54" stroke="#aab0a2" stroke-width="0.5"/><circle cx="401.9" cy="31.4" r="1.5" fill="#5a5e54" stroke="#aab0a2" stroke-width="0.5"/><circle cx="443.9" cy="27.9" r="1.5" fill="#3a3c36" stroke="#aab0a2" stroke-width="0.5"/><circle cx="444.4" cy="62.9" r="1" fill="#4a4c44" stroke="#aab0a2" stroke-width="0.5"/><circle cx="490.9" cy="44.9" r="1.5" fill="#2e302a" stroke="#aab0a2" stroke-width="0.5"/><circle cx="488.4" cy="50.2" r="1.5" fill="#62685c" stroke="#aab0a2" stroke-width="0.5"/><circle cx="393.9" cy="56.9" r="1.5" fill="#62685c" stroke="#aab0a2" stroke-width="0.5"/><circle cx="442.9" cy="35.7" r="0.9" fill="#62685c" stroke="#aab0a2" stroke-width="0.5"/><circle cx="396.9" cy="62.7" r="1.5" fill="#62685c" stroke="#aab0a2" stroke-width="0.5"/><circle cx="412.6" cy="55.2" r="0.9" fill="#4a4c44" stroke="#aab0a2" stroke-width="0.5"/><circle cx="434.1" cy="58.2" r="1.4" fill="#62685c" stroke="#aab0a2" stroke-width="0.5"/><circle cx="449.9" cy="27.9" r="1.4" fill="#5a5e54" stroke="#aab0a2" stroke-width="0.5"/><circle cx="470.6" cy="36.9" r="1.3" fill="#2e302a" stroke="#aab0a2" stroke-width="0.5"/><circle cx="424.6" cy="58.2" r="1.3" fill="#5a5e54" stroke="#aab0a2" stroke-width="0.5"/><circle cx="462.9" cy="28.2" r="1.3" fill="#4a4c44" stroke="#aab0a2" stroke-width="0.5"/><circle cx="402.1" cy="53.4" r="1.3" fill="#5a5e54" stroke="#aab0a2" stroke-width="0.5"/><circle cx="475.9" cy="47.4" r="1.3" fill="#3a3c36" stroke="#aab0a2" stroke-width="0.5"/><circle cx="452.9" cy="37.2" r="1.3" fill="#62685c" stroke="#aab0a2" stroke-width="0.5"/><circle cx="483.6" cy="62.9" r="1.2" fill="#2e302a" stroke="#aab0a2" stroke-width="0.5"/><circle cx="421.1" cy="55.9" r="1.2" fill="#62685c" stroke="#aab0a2" stroke-width="0.5"/><circle cx="420.1" cy="35.7" r="1.2" fill="#62685c" stroke="#aab0a2" stroke-width="0.5"/><circle cx="500.4" cy="44.9" r="1.2" fill="#2e302a" stroke="#aab0a2" stroke-width="0.5"/><circle cx="398.9" cy="46.9" r="1.2" fill="#3a3c36" stroke="#aab0a2" stroke-width="0.5"/><circle cx="445.6" cy="33.9" r="1.2" fill="#5a5e54" stroke="#aab0a2" stroke-width="0.5"/><circle cx="399.1" cy="57.4" r="1.2" fill="#4a4c44" stroke="#aab0a2" stroke-width="0.5"/><circle cx="431.4" cy="31.9" r="1.2" fill="#3a3c36" stroke="#aab0a2" stroke-width="0.5"/><circle cx="423.1" cy="62.9" r="1.1" fill="#5a5e54" stroke="#aab0a2" stroke-width="0.5"/><circle cx="435.4" cy="33.4" r="1.1" fill="#62685c" stroke="#aab0a2" stroke-width="0.5"/><circle cx="456.9" cy="58.4" r="1.1" fill="#5a5e54" stroke="#aab0a2" stroke-width="0.5"/><circle cx="404.6" cy="35.7" r="1" fill="#5a5e54" stroke="#aab0a2" stroke-width="0.5"/><circle cx="457.9" cy="51.4" r="1" fill="#2e302a" stroke="#aab0a2" stroke-width="0.5"/><circle cx="441.6" cy="62.9" r="1" fill="#4a4c44" stroke="#aab0a2" stroke-width="0.5"/><circle cx="441.1" cy="49.7" r="1" fill="#4a4c44" stroke="#aab0a2" stroke-width="0.5"/><circle cx="502.9" cy="48.9" r="1" fill="#5a5e54" stroke="#aab0a2" stroke-width="0.5"/><circle cx="417.4" cy="40.9" r="1" fill="#3a3c36" stroke="#aab0a2" stroke-width="0.5"/><circle cx="453.6" cy="63.2" r="1" fill="#62685c" stroke="#aab0a2" stroke-width="0.5"/><circle cx="434.9" cy="63.2" r="1" fill="#5a5e54" stroke="#aab0a2" stroke-width="0.5"/><circle cx="483.6" cy="60.2" r="1" fill="#62685c" stroke="#aab0a2" stroke-width="0.5"/><circle cx="471.4" cy="32.2" r="1" fill="#2e302a" stroke="#aab0a2" stroke-width="0.5"/><circle cx="482.4" cy="47.7" r="1" fill="#5a5e54" stroke="#aab0a2" stroke-width="0.5"/><circle cx="494.6" cy="43.9" r="1" fill="#2e302a" stroke="#aab0a2" stroke-width="0.5"/><circle cx="490.4" cy="63.2" r="1" fill="#62685c" stroke="#aab0a2" stroke-width="0.5"/><circle cx="410.1" cy="29.2" r="0.9" fill="#5a5e54" stroke="#aab0a2" stroke-width="0.5"/><circle cx="505.4" cy="59.4" r="0.9" fill="#62685c" stroke="#aab0a2" stroke-width="0.5"/><circle cx="463.9" cy="63.2" r="0.9" fill="#3a3c36" stroke="#aab0a2" stroke-width="0.5"/><circle cx="440.9" cy="41.4" r="0.7" fill="#3a3c36" stroke="#aab0a2" stroke-width="0.5"/><circle cx="397.4" cy="33.2" r="0.9" fill="#3a3c36" stroke="#aab0a2" stroke-width="0.5"/><circle cx="486.4" cy="32.9" r="0.9" fill="#2e302a" stroke="#aab0a2" stroke-width="0.5"/><circle cx="452.6" cy="27.4" r="0.9" fill="#3a3c36" stroke="#aab0a2" stroke-width="0.5"/><circle cx="474.9" cy="43.9" r="0.9" fill="#5a5e54" stroke="#aab0a2" stroke-width="0.5"/><circle cx="436.6" cy="27.7" r="0.9" fill="#62685c" stroke="#aab0a2" stroke-width="0.5"/><circle cx="417.4" cy="49.2" r="0.9" fill="#2e302a" stroke="#aab0a2" stroke-width="0.5"/><circle cx="448.1" cy="33.4" r="0.8" fill="#62685c" stroke="#aab0a2" stroke-width="0.5"/><circle cx="409.9" cy="63.2" r="0.8" fill="#4a4c44" stroke="#aab0a2" stroke-width="0.5"/><circle cx="467.9" cy="32.7" r="0.8" fill="#4a4c44" stroke="#aab0a2" stroke-width="0.5"/><circle cx="484.4" cy="38.7" r="0.8" fill="#2e302a" stroke="#aab0a2" stroke-width="0.5"/><circle cx="470.6" cy="42.9" r="0.8" fill="#4a4c44" stroke="#aab0a2" stroke-width="0.5"/><circle cx="456.4" cy="44.9" r="0.8" fill="#2e302a" stroke="#aab0a2" stroke-width="0.5"/><circle cx="481.9" cy="39.7" r="0.8" fill="#2e302a" stroke="#aab0a2" stroke-width="0.5"/><circle cx="404.6" cy="54.7" r="0.8" fill="#5a5e54" stroke="#aab0a2" stroke-width="0.5"/><circle cx="393.9" cy="39.4" r="0.8" fill="#3a3c36" stroke="#aab0a2" stroke-width="0.5"/><circle cx="415.4" cy="28.7" r="0.8" fill="#62685c" stroke="#aab0a2" stroke-width="0.5"/><circle cx="476.9" cy="29.9" r="0.8" fill="#3a3c36" stroke="#aab0a2" stroke-width="0.5"/><circle cx="477.6" cy="39.9" r="0.8" fill="#62685c" stroke="#aab0a2" stroke-width="0.5"/><circle cx="451.1" cy="54.2" r="0.8" fill="#4a4c44" stroke="#aab0a2" stroke-width="0.5"/><circle cx="462.6" cy="57.4" r="0.8" fill="#62685c" stroke="#aab0a2" stroke-width="0.5"/><circle cx="403.1" cy="33.9" r="0.8" fill="#3a3c36" stroke="#aab0a2" stroke-width="0.5"/><circle cx="418.6" cy="28.2" r="0.8" fill="#5a5e54" stroke="#aab0a2" stroke-width="0.5"/><circle cx="505.1" cy="54.9" r="0.8" fill="#3a3c36" stroke="#aab0a2" stroke-width="0.5"/><circle cx="401.6" cy="63.4" r="0.8" fill="#2e302a" stroke="#aab0a2" stroke-width="0.5"/><circle cx="446.6" cy="27.2" r="0.8" fill="#4a4c44" stroke="#aab0a2" stroke-width="0.5"/><circle cx="457.6" cy="63.4" r="0.8" fill="#3a3c36" stroke="#aab0a2" stroke-width="0.5"/><circle cx="446.6" cy="63.4" r="0.8" fill="#62685c" stroke="#aab0a2" stroke-width="0.5"/><circle cx="455.6" cy="56.4" r="0.7" fill="#2e302a" stroke="#aab0a2" stroke-width="0.5"/><circle cx="488.6" cy="52.9" r="0.7" fill="#62685c" stroke="#aab0a2" stroke-width="0.5"/><circle cx="463.4" cy="30.7" r="0.7" fill="#2e302a" stroke="#aab0a2" stroke-width="0.5"/><circle cx="473.1" cy="49.4" r="0.7" fill="#3a3c36" stroke="#aab0a2" stroke-width="0.5"/><circle cx="393.1" cy="43.9" r="0.7" fill="#62685c" stroke="#aab0a2" stroke-width="0.5"/><circle cx="501.9" cy="46.9" r="0.7" fill="#4a4c44" stroke="#aab0a2" stroke-width="0.5"/><ellipse cx="492" cy="47" rx="20" ry="22" fill="#4e5448" opacity="0.45"/></g></g>
<text x="31.5" y="17.2" class="ph">0wt%</text>
<text x="111.3" y="17.2" class="ph">2wt%</text>
<text x="202.5" y="17.2" class="ph">4wt%</text>
<text x="306.9" y="17.2" class="ph">6wt%</text>
<text x="430.5" y="17.2" class="ph">8wt%</text>
<text transform="translate(511.8,58.8) scale(1,1.08)" style="font-size:13.3px">10mm</text>
<rect x="517.3" y="62.6" width="29" height="2.9" fill="#000"/>
</g>
<clipPath id="cp0"><rect x="31.95" y="71.04" width="140.79" height="104.1"/></clipPath>
<rect x="31.95" y="88.23" width="11.73" height="86.91" fill="url(#hatch)" stroke="#c57538" stroke-width="1"/>
<rect x="43.68" y="97.52" width="11.73" height="77.62" fill="url(#hatch)" stroke="#c57538" stroke-width="1"/>
<rect x="55.42" y="109.77" width="11.73" height="65.37" fill="url(#hatch)" stroke="#c57538" stroke-width="1"/>
<rect x="67.15" y="115.72" width="11.73" height="59.42" fill="url(#hatch)" stroke="#c57538" stroke-width="1"/>
<rect x="78.88" y="147.66" width="11.73" height="27.48" fill="url(#hatch)" stroke="#c57538" stroke-width="1"/>
<rect x="90.61" y="146.91" width="11.73" height="28.23" fill="url(#hatch)" stroke="#c57538" stroke-width="1"/>
<rect x="102.35" y="161.21" width="11.73" height="13.93" fill="url(#hatch)" stroke="#c57538" stroke-width="1"/>
<rect x="114.08" y="167.34" width="11.73" height="7.8" fill="url(#hatch)" stroke="#c57538" stroke-width="1"/>
<rect x="125.81" y="172.91" width="11.73" height="2.23" fill="url(#hatch)" stroke="#c57538" stroke-width="1"/>
<rect x="137.55" y="174.03" width="11.73" height="1.11" fill="url(#hatch)" stroke="#c57538" stroke-width="1"/>
<rect x="149.28" y="174.77" width="11.73" height="0.37" fill="url(#hatch)" stroke="#c57538" stroke-width="1"/>
<rect x="161.01" y="174.4" width="11.73" height="0.74" fill="url(#hatch)" stroke="#c57538" stroke-width="1"/>
<polyline points="31.95,141.61 33.12,139.3 34.3,136.93 35.47,134.5 36.64,132.02 37.82,129.5 38.99,126.95 40.16,124.37 41.34,121.79 42.51,119.22 43.68,116.66 44.86,114.13 46.03,111.65 47.2,109.22 48.38,106.87 49.55,104.6 50.72,102.44 51.9,100.39 53.07,98.46 54.24,96.68 55.42,95.05 56.59,93.58 57.76,92.29 58.93,91.18 60.11,90.26 61.28,89.54 62.45,89.02 63.63,88.71 64.8,88.6 65.97,88.71 67.15,89.02 68.32,89.54 69.49,90.26 70.67,91.18 71.84,92.29 73.01,93.58 74.19,95.05 75.36,96.68 76.53,98.46 77.71,100.38 78.88,102.43 80.05,104.6 81.23,106.86 82.4,109.21 83.57,111.64 84.75,114.12 85.92,116.65 87.09,119.21 88.27,121.79 89.44,124.37 90.61,126.94 91.79,129.49 92.96,132.01 94.13,134.5 95.31,136.93 96.48,139.3 97.65,141.6 98.83,143.84 100,145.99 101.17,148.07 102.35,150.05 103.52,151.95 104.69,153.75 105.86,155.47 107.04,157.08 108.21,158.61 109.38,160.04 110.56,161.38 111.73,162.64 112.9,163.8 114.08,164.89 115.25,165.89 116.42,166.81 117.6,167.66 118.77,168.44 119.94,169.15 121.12,169.8 122.29,170.39 123.46,170.93 124.64,171.41 125.81,171.85 126.98,172.24 128.16,172.59 129.33,172.91 130.5,173.19 131.68,173.44 132.85,173.66 134.02,173.85 135.2,174.03 136.37,174.18 137.54,174.31 138.72,174.43 139.89,174.53 141.06,174.62 142.24,174.69 143.41,174.76 144.58,174.82 145.76,174.87 146.93,174.91 148.1,174.95 149.28,174.98 150.45,175 151.62,175.02 152.79,175.04 153.97,175.06 155.14,175.07 156.31,175.08 157.49,175.09 158.66,175.1 159.83,175.11 161.01,175.11 162.18,175.12 163.35,175.12 164.53,175.13 165.7,175.13 166.87,175.13 168.05,175.13 169.22,175.13 170.39,175.14 171.57,175.14 172.74,175.14" fill="none" stroke="#c9783c" stroke-width="1.05" clip-path="url(#cp0)"/>
<rect x="31.95" y="71.04" width="140.79" height="104.1" fill="none" stroke="#000" stroke-width="1.4"/>
<line x1="29.95" y1="175.14" x2="31.95" y2="175.14" stroke="#000" stroke-width="1"/>
<text x="29.35" y="178.24" text-anchor="end" font-size="10">0</text>
<line x1="29.95" y1="156.57" x2="31.95" y2="156.57" stroke="#000" stroke-width="1"/>
<text x="29.35" y="159.67" text-anchor="end" font-size="10">5</text>
<line x1="29.95" y1="138" x2="31.95" y2="138" stroke="#000" stroke-width="1"/>
<text x="29.35" y="141.1" text-anchor="end" font-size="10">10</text>
<line x1="29.95" y1="119.43" x2="31.95" y2="119.43" stroke="#000" stroke-width="1"/>
<text x="29.35" y="122.53" text-anchor="end" font-size="10">15</text>
<line x1="29.95" y1="100.86" x2="31.95" y2="100.86" stroke="#000" stroke-width="1"/>
<text x="29.35" y="103.96" text-anchor="end" font-size="10">20</text>
<line x1="29.95" y1="82.29" x2="31.95" y2="82.29" stroke="#000" stroke-width="1"/>
<text x="29.35" y="85.39" text-anchor="end" font-size="10">25</text>
<line x1="31.95" y1="175.14" x2="31.95" y2="177.14" stroke="#000" stroke-width="1"/>
<text transform="translate(32.95,188.44) rotate(-45)" y="3.4" text-anchor="middle" font-size="10">0.0</text>
<line x1="55.42" y1="175.14" x2="55.42" y2="177.14" stroke="#000" stroke-width="1"/>
<text transform="translate(56.42,188.44) rotate(-45)" y="3.4" text-anchor="middle" font-size="10">0.3</text>
<line x1="78.88" y1="175.14" x2="78.88" y2="177.14" stroke="#000" stroke-width="1"/>
<text transform="translate(79.88,188.44) rotate(-45)" y="3.4" text-anchor="middle" font-size="10">0.6</text>
<line x1="102.35" y1="175.14" x2="102.35" y2="177.14" stroke="#000" stroke-width="1"/>
<text transform="translate(103.35,188.44) rotate(-45)" y="3.4" text-anchor="middle" font-size="10">0.9</text>
<line x1="125.81" y1="175.14" x2="125.81" y2="177.14" stroke="#000" stroke-width="1"/>
<text transform="translate(126.81,188.44) rotate(-45)" y="3.4" text-anchor="middle" font-size="10">1.2</text>
<line x1="149.28" y1="175.14" x2="149.28" y2="177.14" stroke="#000" stroke-width="1"/>
<text transform="translate(150.28,188.44) rotate(-45)" y="3.4" text-anchor="middle" font-size="10">1.5</text>
<line x1="172.75" y1="175.14" x2="172.75" y2="177.14" stroke="#000" stroke-width="1"/>
<text transform="translate(173.75,188.44) rotate(-45)" y="3.4" text-anchor="middle" font-size="10">1.8</text>
<text x="96.65" y="204.3" text-anchor="middle" font-size="11.56">Pore size (mm)</text>
<text transform="translate(14.4,127.25) rotate(-90)" text-anchor="middle" font-size="11.27">Percentage range (%)</text>
<text x="169.1" y="81.0" text-anchor="end" font-size="9.15">Average pore size: 0.23mm</text>
<text x="169.1" y="92" text-anchor="end" font-size="9.0">0wt%</text>
<rect x="125.9" y="85" width="18.8" height="9" fill="url(#hatch)" stroke="#c57538" stroke-width="1"/>
<clipPath id="cp1"><rect x="208.94" y="74.94" width="139.5" height="103.2"/></clipPath>
<rect x="208.94" y="90.16" width="10.71" height="87.98" fill="url(#hatch)" stroke="#c57538" stroke-width="1"/>
<rect x="219.65" y="141.67" width="10.71" height="36.47" fill="url(#hatch)" stroke="#c57538" stroke-width="1"/>
<rect x="230.36" y="158.78" width="10.71" height="19.36" fill="url(#hatch)" stroke="#c57538" stroke-width="1"/>
<rect x="241.07" y="166.48" width="10.71" height="11.66" fill="url(#hatch)" stroke="#c57538" stroke-width="1"/>
<rect x="251.78" y="165.54" width="10.71" height="12.6" fill="url(#hatch)" stroke="#c57538" stroke-width="1"/>
<rect x="262.49" y="172.31" width="10.71" height="5.83" fill="url(#hatch)" stroke="#c57538" stroke-width="1"/>
<rect x="273.2" y="174.19" width="10.71" height="3.95" fill="url(#hatch)" stroke="#c57538" stroke-width="1"/>
<rect x="283.91" y="176.07" width="10.71" height="2.07" fill="url(#hatch)" stroke="#c57538" stroke-width="1"/>
<rect x="294.62" y="176.82" width="10.71" height="1.32" fill="url(#hatch)" stroke="#c57538" stroke-width="1"/>
<rect x="305.33" y="177.2" width="10.71" height="0.94" fill="url(#hatch)" stroke="#c57538" stroke-width="1"/>
<rect x="316.04" y="177.58" width="10.71" height="0.56" fill="url(#hatch)" stroke="#c57538" stroke-width="1"/>
<rect x="326.75" y="177.76" width="10.71" height="0.38" fill="url(#hatch)" stroke="#c57538" stroke-width="1"/>
<rect x="337.46" y="177.95" width="10.71" height="0.19" fill="url(#hatch)" stroke="#c57538" stroke-width="1"/>
<polyline points="208.94,116.31 210.1,113.83 211.26,111.4 212.43,109.05 213.59,106.77 214.75,104.6 215.91,102.53 217.08,100.58 218.24,98.77 219.4,97.11 220.56,95.61 221.73,94.27 222.89,93.1 224.05,92.13 225.22,91.34 226.38,90.75 227.54,90.36 228.7,90.17 229.87,90.19 231.03,90.41 232.19,90.84 233.35,91.46 234.51,92.28 235.68,93.3 236.84,94.49 238,95.86 239.16,97.39 240.33,99.08 241.49,100.92 242.65,102.88 243.81,104.97 244.98,107.17 246.14,109.45 247.3,111.82 248.46,114.26 249.63,116.75 250.79,119.28 251.95,121.84 253.12,124.41 254.28,126.98 255.44,129.55 256.6,132.09 257.76,134.6 258.93,137.07 260.09,139.49 261.25,141.85 262.41,144.15 263.58,146.37 264.74,148.52 265.9,150.59 267.06,152.57 268.23,154.46 269.39,156.27 270.55,157.98 271.71,159.61 272.88,161.14 274.04,162.58 275.2,163.94 276.37,165.2 277.53,166.38 278.69,167.48 279.85,168.5 281.01,169.44 282.18,170.3 283.34,171.1 284.5,171.83 285.66,172.5 286.83,173.11 287.99,173.66 289.15,174.16 290.31,174.62 291.48,175.03 292.64,175.39 293.8,175.73 294.97,176.02 296.13,176.28 297.29,176.52 298.45,176.73 299.62,176.91 300.78,177.07 301.94,177.22 303.1,177.34 304.26,177.45 305.43,177.55 306.59,177.63 307.75,177.71 308.91,177.77 310.08,177.83 311.24,177.87 312.4,177.91 313.56,177.95 314.73,177.98 315.89,178 317.05,178.03 318.21,178.04 319.38,178.06 320.54,178.07 321.7,178.08 322.87,178.09 324.03,178.1 325.19,178.11 326.35,178.11 327.51,178.12 328.68,178.12 329.84,178.13 331,178.13 332.16,178.13 333.33,178.13 334.49,178.13 335.65,178.13 336.81,178.14 337.98,178.14 339.14,178.14 340.3,178.14 341.46,178.14 342.63,178.14 343.79,178.14 344.95,178.14 346.12,178.14 347.28,178.14 348.44,178.14" fill="none" stroke="#c9783c" stroke-width="1.05" clip-path="url(#cp1)"/>
<rect x="208.94" y="74.94" width="139.5" height="103.2" fill="none" stroke="#000" stroke-width="1.4"/>
<line x1="206.94" y1="178.14" x2="208.94" y2="178.14" stroke="#000" stroke-width="1"/>
<text x="206.34" y="181.24" text-anchor="end" font-size="10.3">0</text>
<line x1="206.94" y1="159.34" x2="208.94" y2="159.34" stroke="#000" stroke-width="1"/>
<text x="206.34" y="162.44" text-anchor="end" font-size="10.3">10</text>
<line x1="206.94" y1="140.54" x2="208.94" y2="140.54" stroke="#000" stroke-width="1"/>
<text x="206.34" y="143.64" text-anchor="end" font-size="10.3">20</text>
<line x1="206.94" y1="121.74" x2="208.94" y2="121.74" stroke="#000" stroke-width="1"/>
<text x="206.34" y="124.84" text-anchor="end" font-size="10.3">30</text>
<line x1="206.94" y1="102.94" x2="208.94" y2="102.94" stroke="#000" stroke-width="1"/>
<text x="206.34" y="106.04" text-anchor="end" font-size="10.3">40</text>
<line x1="206.94" y1="84.14" x2="208.94" y2="84.14" stroke="#000" stroke-width="1"/>
<text x="206.34" y="87.24" text-anchor="end" font-size="10.3">50</text>
<line x1="208.94" y1="178.14" x2="208.94" y2="180.14" stroke="#000" stroke-width="1"/>
<text transform="translate(209.94,191.14) rotate(-45)" y="3.4" text-anchor="middle" font-size="10.3">0.0</text>
<line x1="230.36" y1="178.14" x2="230.36" y2="180.14" stroke="#000" stroke-width="1"/>
<text transform="translate(231.36,191.14) rotate(-45)" y="3.4" text-anchor="middle" font-size="10.3">0.4</text>
<line x1="251.78" y1="178.14" x2="251.78" y2="180.14" stroke="#000" stroke-width="1"/>
<text transform="translate(252.78,191.14) rotate(-45)" y="3.4" text-anchor="middle" font-size="10.3">0.8</text>
<line x1="273.2" y1="178.14" x2="273.2" y2="180.14" stroke="#000" stroke-width="1"/>
<text transform="translate(274.2,191.14) rotate(-45)" y="3.4" text-anchor="middle" font-size="10.3">1.2</text>
<line x1="294.62" y1="178.14" x2="294.62" y2="180.14" stroke="#000" stroke-width="1"/>
<text transform="translate(295.62,191.14) rotate(-45)" y="3.4" text-anchor="middle" font-size="10.3">1.6</text>
<line x1="316.04" y1="178.14" x2="316.04" y2="180.14" stroke="#000" stroke-width="1"/>
<text transform="translate(317.04,191.14) rotate(-45)" y="3.4" text-anchor="middle" font-size="10.3">2.0</text>
<line x1="337.46" y1="178.14" x2="337.46" y2="180.14" stroke="#000" stroke-width="1"/>
<text transform="translate(338.46,191.14) rotate(-45)" y="3.4" text-anchor="middle" font-size="10.3">2.4</text>
<text x="274.9" y="205" text-anchor="middle" font-size="11.39">Pore size (mm)</text>
<text transform="translate(192.4,127.6) rotate(-90)" text-anchor="middle" font-size="11.19">Percentage range (%)</text>
<text x="344.8" y="85.5" text-anchor="end" font-size="9.0">Average pore size<tspan font-size="7">:</tspan>  0.41mm</text>
<text x="344.8" y="96.5" text-anchor="end" font-size="9.0">2wt%</text>
<rect x="304.6" y="90" width="15.1" height="7.6" fill="url(#hatch)" stroke="#c57538" stroke-width="1"/>
<clipPath id="cp2"><rect x="379.65" y="75.04" width="132.89" height="98.41"/></clipPath>
<rect x="379.65" y="119.33" width="8.28" height="54.12" fill="url(#hatch)" stroke="#c57538" stroke-width="1"/>
<rect x="387.93" y="94.73" width="8.28" height="78.72" fill="url(#hatch)" stroke="#c57538" stroke-width="1"/>
<rect x="396.21" y="130.15" width="8.28" height="43.3" fill="url(#hatch)" stroke="#c57538" stroke-width="1"/>
<rect x="404.48" y="133.11" width="8.28" height="40.34" fill="url(#hatch)" stroke="#c57538" stroke-width="1"/>
<rect x="412.76" y="142.95" width="8.28" height="30.5" fill="url(#hatch)" stroke="#c57538" stroke-width="1"/>
<rect x="421.04" y="162.63" width="8.28" height="10.82" fill="url(#hatch)" stroke="#c57538" stroke-width="1"/>
<rect x="429.32" y="158.23" width="8.28" height="15.22" fill="url(#hatch)" stroke="#c57538" stroke-width="1"/>
<rect x="437.6" y="155.41" width="8.28" height="18.04" fill="url(#hatch)" stroke="#c57538" stroke-width="1"/>
<rect x="445.87" y="166.43" width="8.28" height="7.02" fill="url(#hatch)" stroke="#c57538" stroke-width="1"/>
<rect x="454.15" y="165.25" width="8.28" height="8.2" fill="url(#hatch)" stroke="#c57538" stroke-width="1"/>
<rect x="462.43" y="169.84" width="8.28" height="3.61" fill="url(#hatch)" stroke="#c57538" stroke-width="1"/>
<rect x="470.71" y="167.55" width="8.28" height="5.9" fill="url(#hatch)" stroke="#c57538" stroke-width="1"/>
<rect x="478.99" y="167.55" width="8.28" height="5.9" fill="url(#hatch)" stroke="#c57538" stroke-width="1"/>
<rect x="487.26" y="171.32" width="8.28" height="2.13" fill="url(#hatch)" stroke="#c57538" stroke-width="1"/>
<rect x="495.54" y="171.32" width="8.28" height="2.13" fill="url(#hatch)" stroke="#c57538" stroke-width="1"/>
<rect x="503.82" y="172.14" width="8.28" height="1.31" fill="url(#hatch)" stroke="#c57538" stroke-width="1"/>
<polyline points="379.65,127.58 380.76,125.84 381.86,124.11 382.97,122.38 384.08,120.66 385.19,118.95 386.29,117.26 387.4,115.6 388.51,113.96 389.62,112.36 390.72,110.79 391.83,109.27 392.94,107.8 394.05,106.38 395.15,105.02 396.26,103.72 397.37,102.49 398.48,101.34 399.58,100.26 400.69,99.26 401.8,98.35 402.91,97.53 404.01,96.79 405.12,96.15 406.23,95.61 407.34,95.17 408.44,94.82 409.55,94.58 410.66,94.44 411.77,94.4 412.87,94.47 413.98,94.64 415.09,94.91 416.19,95.29 417.3,95.76 418.41,96.33 419.52,97 420.62,97.76 421.73,98.61 422.84,99.55 423.95,100.57 425.05,101.67 426.16,102.85 427.27,104.09 428.38,105.41 429.48,106.79 430.59,108.22 431.7,109.71 432.81,111.24 433.91,112.82 435.02,114.44 436.13,116.08 437.24,117.76 438.34,119.45 439.45,121.16 440.56,122.89 441.67,124.62 442.77,126.35 443.88,128.08 444.99,129.81 446.09,131.52 447.2,133.22 448.31,134.9 449.42,136.56 450.52,138.19 451.63,139.8 452.74,141.37 453.85,142.91 454.95,144.42 456.06,145.88 457.17,147.31 458.28,148.7 459.38,150.04 460.49,151.34 461.6,152.59 462.71,153.8 463.81,154.96 464.92,156.08 466.03,157.15 467.14,158.17 468.24,159.15 469.35,160.08 470.46,160.97 471.57,161.82 472.67,162.62 473.78,163.38 474.89,164.1 476,164.78 477.1,165.42 478.21,166.02 479.32,166.59 480.42,167.12 481.53,167.62 482.64,168.08 483.75,168.52 484.85,168.92 485.96,169.3 487.07,169.65 488.18,169.98 489.28,170.28 490.39,170.56 491.5,170.82 492.61,171.06 493.71,171.28 494.82,171.48 495.93,171.66 497.04,171.83 498.14,171.99 499.25,172.13 500.36,172.26 501.47,172.38 502.57,172.49 503.68,172.59 504.79,172.68 505.9,172.76 507,172.83 508.11,172.9 509.22,172.96 510.33,173.01 511.43,173.06 512.54,173.1" fill="none" stroke="#c9783c" stroke-width="1.05" clip-path="url(#cp2)"/>
<rect x="379.65" y="75.04" width="132.89" height="98.41" fill="none" stroke="#000" stroke-width="1.4"/>
<line x1="377.65" y1="173.45" x2="379.65" y2="173.45" stroke="#000" stroke-width="1"/>
<text x="377.05" y="176.55" text-anchor="end" font-size="9.5">0</text>
<line x1="377.65" y1="157.05" x2="379.65" y2="157.05" stroke="#000" stroke-width="1"/>
<text x="377.05" y="160.15" text-anchor="end" font-size="9.5">5</text>
<line x1="377.65" y1="140.65" x2="379.65" y2="140.65" stroke="#000" stroke-width="1"/>
<text x="377.05" y="143.75" text-anchor="end" font-size="9.5">10</text>
<line x1="377.65" y1="124.25" x2="379.65" y2="124.25" stroke="#000" stroke-width="1"/>
<text x="377.05" y="127.35" text-anchor="end" font-size="9.5">15</text>
<line x1="377.65" y1="107.85" x2="379.65" y2="107.85" stroke="#000" stroke-width="1"/>
<text x="377.05" y="110.95" text-anchor="end" font-size="9.5">20</text>
<line x1="377.65" y1="91.45" x2="379.65" y2="91.45" stroke="#000" stroke-width="1"/>
<text x="377.05" y="94.55" text-anchor="end" font-size="9.5">25</text>
<line x1="377.65" y1="75.05" x2="379.65" y2="75.05" stroke="#000" stroke-width="1"/>
<text x="377.05" y="78.15" text-anchor="end" font-size="9.5">30</text>
<line x1="379.65" y1="173.45" x2="379.65" y2="175.45" stroke="#000" stroke-width="1"/>
<text transform="translate(380.65,185.65) rotate(-45)" y="3.4" text-anchor="middle" font-size="9.5">0.0</text>
<line x1="396.21" y1="173.45" x2="396.21" y2="175.45" stroke="#000" stroke-width="1"/>
<text transform="translate(397.21,185.65) rotate(-45)" y="3.4" text-anchor="middle" font-size="9.5">0.4</text>
<line x1="412.76" y1="173.45" x2="412.76" y2="175.45" stroke="#000" stroke-width="1"/>
<text transform="translate(413.76,185.65) rotate(-45)" y="3.4" text-anchor="middle" font-size="9.5">0.8</text>
<line x1="429.32" y1="173.45" x2="429.32" y2="175.45" stroke="#000" stroke-width="1"/>
<text transform="translate(430.32,185.65) rotate(-45)" y="3.4" text-anchor="middle" font-size="9.5">1.2</text>
<line x1="445.87" y1="173.45" x2="445.87" y2="175.45" stroke="#000" stroke-width="1"/>
<text transform="translate(446.87,185.65) rotate(-45)" y="3.4" text-anchor="middle" font-size="9.5">1.6</text>
<line x1="462.43" y1="173.45" x2="462.43" y2="175.45" stroke="#000" stroke-width="1"/>
<text transform="translate(463.43,185.65) rotate(-45)" y="3.4" text-anchor="middle" font-size="9.5">2.0</text>
<line x1="478.99" y1="173.45" x2="478.99" y2="175.45" stroke="#000" stroke-width="1"/>
<text transform="translate(479.99,185.65) rotate(-45)" y="3.4" text-anchor="middle" font-size="9.5">2.4</text>
<line x1="495.54" y1="173.45" x2="495.54" y2="175.45" stroke="#000" stroke-width="1"/>
<text transform="translate(496.54,185.65) rotate(-45)" y="3.4" text-anchor="middle" font-size="9.5">2.8</text>
<line x1="512.1" y1="173.45" x2="512.1" y2="175.45" stroke="#000" stroke-width="1"/>
<text transform="translate(513.1,185.65) rotate(-45)" y="3.4" text-anchor="middle" font-size="9.5">3.2</text>
<text x="444.1" y="201" text-anchor="middle" font-size="10.91">Pore size (mm)</text>
<text transform="translate(364.9,127.95) rotate(-90)" text-anchor="middle" font-size="10.63">Percentage range (%)</text>
<text x="509.1" y="85.5" text-anchor="end" font-size="8.52">Average pore size: 0.97mm</text>
<text x="509.8" y="95.9" text-anchor="end" font-size="8.3">4wt%</text>
<rect x="472.1" y="89.6" width="14.7" height="7.4" fill="url(#hatch)" stroke="#c57538" stroke-width="1"/>
<clipPath id="cp3"><rect x="131.15" y="215.84" width="138.9" height="103.41"/></clipPath>
<rect x="131.15" y="255.73" width="8.15" height="63.52" fill="url(#hatch)" stroke="#c57538" stroke-width="1"/>
<rect x="139.3" y="232.59" width="8.15" height="86.66" fill="url(#hatch)" stroke="#c57538" stroke-width="1"/>
<rect x="147.45" y="273.95" width="8.15" height="45.3" fill="url(#hatch)" stroke="#c57538" stroke-width="1"/>
<rect x="155.61" y="255.73" width="8.15" height="63.52" fill="url(#hatch)" stroke="#c57538" stroke-width="1"/>
<rect x="163.76" y="273.95" width="8.15" height="45.3" fill="url(#hatch)" stroke="#c57538" stroke-width="1"/>
<rect x="171.91" y="284.98" width="8.15" height="34.27" fill="url(#hatch)" stroke="#c57538" stroke-width="1"/>
<rect x="180.06" y="290.59" width="8.15" height="28.66" fill="url(#hatch)" stroke="#c57538" stroke-width="1"/>
<rect x="188.21" y="279.17" width="8.15" height="40.08" fill="url(#hatch)" stroke="#c57538" stroke-width="1"/>
<rect x="196.37" y="308.22" width="8.15" height="11.03" fill="url(#hatch)" stroke="#c57538" stroke-width="1"/>
<rect x="204.52" y="314.23" width="8.15" height="5.02" fill="url(#hatch)" stroke="#c57538" stroke-width="1"/>
<rect x="212.67" y="302.56" width="8.15" height="16.69" fill="url(#hatch)" stroke="#c57538" stroke-width="1"/>
<rect x="220.82" y="308.17" width="8.15" height="11.08" fill="url(#hatch)" stroke="#c57538" stroke-width="1"/>
<rect x="228.97" y="314.23" width="8.15" height="5.02" fill="url(#hatch)" stroke="#c57538" stroke-width="1"/>
<rect x="237.13" y="314.23" width="8.15" height="5.02" fill="url(#hatch)" stroke="#c57538" stroke-width="1"/>
<rect x="245.28" y="314.23" width="8.15" height="5.02" fill="url(#hatch)" stroke="#c57538" stroke-width="1"/>
<rect x="253.43" y="308.17" width="8.15" height="11.08" fill="url(#hatch)" stroke="#c57538" stroke-width="1"/>
<rect x="261.58" y="314.23" width="8.15" height="5.02" fill="url(#hatch)" stroke="#c57538" stroke-width="1"/>
<polyline points="131.15,277.33 132.31,275.54 133.47,273.73 134.62,271.9 135.78,270.06 136.94,268.22 138.09,266.36 139.25,264.51 140.41,262.66 141.57,260.82 142.72,259 143.88,257.2 145.04,255.42 146.2,253.66 147.36,251.95 148.51,250.27 149.67,248.64 150.83,247.06 151.99,245.54 153.14,244.07 154.3,242.67 155.46,241.34 156.62,240.09 157.77,238.91 158.93,237.81 160.09,236.81 161.25,235.89 162.4,235.06 163.56,234.34 164.72,233.71 165.88,233.18 167.03,232.75 168.19,232.43 169.35,232.22 170.5,232.11 171.66,232.11 172.82,232.21 173.98,232.43 175.13,232.75 176.29,233.17 177.45,233.69 178.61,234.32 179.77,235.05 180.92,235.87 182.08,236.79 183.24,237.79 184.4,238.89 185.55,240.06 186.71,241.32 187.87,242.65 189.03,244.05 190.18,245.51 191.34,247.03 192.5,248.61 193.66,250.24 194.81,251.92 195.97,253.63 197.13,255.38 198.29,257.16 199.44,258.97 200.6,260.79 201.76,262.63 202.92,264.47 204.07,266.33 205.23,268.18 206.39,270.03 207.55,271.87 208.7,273.69 209.86,275.51 211.02,277.3 212.18,279.06 213.33,280.8 214.49,282.51 215.65,284.19 216.81,285.83 217.96,287.43 219.12,288.99 220.28,290.52 221.44,291.99 222.59,293.43 223.75,294.82 224.91,296.16 226.07,297.46 227.22,298.7 228.38,299.91 229.54,301.06 230.7,302.16 231.85,303.22 233.01,304.23 234.17,305.2 235.32,306.11 236.48,306.99 237.64,307.82 238.8,308.6 239.96,309.35 241.11,310.05 242.27,310.72 243.43,311.34 244.59,311.93 245.74,312.49 246.9,313 248.06,313.49 249.22,313.95 250.37,314.37 251.53,314.77 252.69,315.14 253.85,315.48 255,315.8 256.16,316.1 257.32,316.37 258.48,316.62 259.63,316.86 260.79,317.07 261.95,317.27 263.11,317.46 264.26,317.62 265.42,317.78 266.58,317.92 267.74,318.05 268.89,318.17 270.05,318.27" fill="none" stroke="#c9783c" stroke-width="1.05" clip-path="url(#cp3)"/>
<rect x="131.15" y="215.84" width="138.9" height="103.41" fill="none" stroke="#000" stroke-width="1.4"/>
<line x1="129.15" y1="319.25" x2="131.15" y2="319.25" stroke="#000" stroke-width="1"/>
<text x="128.55" y="322.35" text-anchor="end" font-size="10">0</text>
<line x1="129.15" y1="304.48" x2="131.15" y2="304.48" stroke="#000" stroke-width="1"/>
<text x="128.55" y="307.58" text-anchor="end" font-size="10">3</text>
<line x1="129.15" y1="289.71" x2="131.15" y2="289.71" stroke="#000" stroke-width="1"/>
<text x="128.55" y="292.81" text-anchor="end" font-size="10">6</text>
<line x1="129.15" y1="274.93" x2="131.15" y2="274.93" stroke="#000" stroke-width="1"/>
<text x="128.55" y="278.03" text-anchor="end" font-size="10">9</text>
<line x1="129.15" y1="260.16" x2="131.15" y2="260.16" stroke="#000" stroke-width="1"/>
<text x="128.55" y="263.26" text-anchor="end" font-size="10">12</text>
<line x1="129.15" y1="245.39" x2="131.15" y2="245.39" stroke="#000" stroke-width="1"/>
<text x="128.55" y="248.49" text-anchor="end" font-size="10">15</text>
<line x1="129.15" y1="230.62" x2="131.15" y2="230.62" stroke="#000" stroke-width="1"/>
<text x="128.55" y="233.72" text-anchor="end" font-size="10">18</text>
<line x1="129.15" y1="215.85" x2="131.15" y2="215.85" stroke="#000" stroke-width="1"/>
<text x="128.55" y="218.95" text-anchor="end" font-size="10">21</text>
<line x1="131.15" y1="319.25" x2="131.15" y2="321.25" stroke="#000" stroke-width="1"/>
<text transform="translate(132.15,332.55) rotate(-45)" y="3.4" text-anchor="middle" font-size="10.5">0.0</text>
<line x1="147.45" y1="319.25" x2="147.45" y2="321.25" stroke="#000" stroke-width="1"/>
<text transform="translate(148.45,332.55) rotate(-45)" y="3.4" text-anchor="middle" font-size="10.5">0.8</text>
<line x1="163.76" y1="319.25" x2="163.76" y2="321.25" stroke="#000" stroke-width="1"/>
<text transform="translate(164.76,332.55) rotate(-45)" y="3.4" text-anchor="middle" font-size="10.5">1.6</text>
<line x1="180.06" y1="319.25" x2="180.06" y2="321.25" stroke="#000" stroke-width="1"/>
<text transform="translate(181.06,332.55) rotate(-45)" y="3.4" text-anchor="middle" font-size="10.5">2.4</text>
<line x1="196.37" y1="319.25" x2="196.37" y2="321.25" stroke="#000" stroke-width="1"/>
<text transform="translate(197.37,332.55) rotate(-45)" y="3.4" text-anchor="middle" font-size="10.5">3.2</text>
<line x1="212.67" y1="319.25" x2="212.67" y2="321.25" stroke="#000" stroke-width="1"/>
<text transform="translate(213.67,332.55) rotate(-45)" y="3.4" text-anchor="middle" font-size="10.5">4.0</text>
<line x1="228.97" y1="319.25" x2="228.97" y2="321.25" stroke="#000" stroke-width="1"/>
<text transform="translate(229.97,332.55) rotate(-45)" y="3.4" text-anchor="middle" font-size="10.5">4.8</text>
<line x1="245.28" y1="319.25" x2="245.28" y2="321.25" stroke="#000" stroke-width="1"/>
<text transform="translate(246.28,332.55) rotate(-45)" y="3.4" text-anchor="middle" font-size="10.5">5.6</text>
<line x1="261.58" y1="319.25" x2="261.58" y2="321.25" stroke="#000" stroke-width="1"/>
<text transform="translate(262.58,332.55) rotate(-45)" y="3.4" text-anchor="middle" font-size="10.5">6.4</text>
<text x="195" y="347.7" text-anchor="middle" font-size="11.48">Pore size (mm)</text>
<text transform="translate(115.5,269.5) rotate(-90)" text-anchor="middle" font-size="11.26">Percentage range (%)</text>
<text x="267.1" y="225.9" text-anchor="end" font-size="8.83">Average pore size: 1.61mm</text>
<text x="267.1" y="237" text-anchor="end" font-size="8.9">6wt%</text>
<rect x="227" y="230.7" width="15.7" height="7.7" fill="url(#hatch)" stroke="#c57538" stroke-width="1"/>
<clipPath id="cp4"><rect x="305.55" y="215.04" width="133.6" height="99.46"/></clipPath>
<rect x="305.55" y="231.36" width="12.14" height="83.14" fill="url(#hatch)" stroke="#c57538" stroke-width="1"/>
<rect x="317.69" y="289.96" width="12.14" height="24.54" fill="url(#hatch)" stroke="#c57538" stroke-width="1"/>
<rect x="329.84" y="303.92" width="12.14" height="10.58" fill="url(#hatch)" stroke="#c57538" stroke-width="1"/>
<rect x="341.98" y="309.44" width="12.14" height="5.06" fill="url(#hatch)" stroke="#c57538" stroke-width="1"/>
<rect x="354.13" y="311.13" width="12.14" height="3.37" fill="url(#hatch)" stroke="#c57538" stroke-width="1"/>
<rect x="366.27" y="309.74" width="12.14" height="4.76" fill="url(#hatch)" stroke="#c57538" stroke-width="1"/>
<rect x="378.41" y="307.9" width="12.14" height="6.6" fill="url(#hatch)" stroke="#c57538" stroke-width="1"/>
<rect x="390.56" y="313.2" width="12.14" height="1.3" fill="url(#hatch)" stroke="#c57538" stroke-width="1"/>
<rect x="402.7" y="311.28" width="12.14" height="3.22" fill="url(#hatch)" stroke="#c57538" stroke-width="1"/>
<rect x="414.85" y="313.2" width="12.14" height="1.3" fill="url(#hatch)" stroke="#c57538" stroke-width="1"/>
<rect x="426.99" y="311.28" width="12.14" height="3.22" fill="url(#hatch)" stroke="#c57538" stroke-width="1"/>
<polyline points="305.55,249.8 306.66,248.35 307.78,246.92 308.89,245.54 310,244.2 311.12,242.91 312.23,241.67 313.34,240.48 314.46,239.35 315.57,238.28 316.68,237.27 317.8,236.33 318.91,235.46 320.02,234.65 321.14,233.93 322.25,233.28 323.36,232.7 324.48,232.21 325.59,231.8 326.7,231.47 327.82,231.22 328.93,231.06 330.04,230.98 331.16,230.99 332.27,231.08 333.38,231.26 334.5,231.52 335.61,231.86 336.72,232.29 337.84,232.79 338.95,233.38 340.06,234.05 341.18,234.79 342.29,235.6 343.4,236.48 344.52,237.44 345.63,238.45 346.74,239.54 347.86,240.68 348.97,241.87 350.08,243.12 351.2,244.43 352.31,245.77 353.42,247.16 354.54,248.59 355.65,250.05 356.76,251.55 357.88,253.07 358.99,254.62 360.1,256.19 361.22,257.77 362.33,259.37 363.44,260.97 364.56,262.59 365.67,264.2 366.78,265.82 367.9,267.43 369.01,269.03 370.12,270.62 371.24,272.2 372.35,273.77 373.46,275.32 374.58,276.84 375.69,278.35 376.8,279.83 377.92,281.28 379.03,282.7 380.14,284.1 381.26,285.46 382.37,286.79 383.48,288.08 384.6,289.34 385.71,290.57 386.82,291.76 387.94,292.91 389.05,294.02 390.16,295.1 391.28,296.14 392.39,297.14 393.5,298.1 394.62,299.02 395.73,299.91 396.84,300.76 397.96,301.58 399.07,302.36 400.18,303.1 401.3,303.81 402.41,304.48 403.52,305.12 404.64,305.73 405.75,306.31 406.86,306.86 407.98,307.38 409.09,307.87 410.2,308.33 411.32,308.77 412.43,309.18 413.54,309.56 414.66,309.93 415.77,310.27 416.88,310.59 418,310.88 419.11,311.16 420.22,311.42 421.34,311.67 422.45,311.89 423.56,312.11 424.68,312.3 425.79,312.48 426.9,312.65 428.02,312.81 429.13,312.95 430.24,313.09 431.36,313.21 432.47,313.33 433.58,313.43 434.7,313.53 435.81,313.62 436.92,313.7 438.04,313.77 439.15,313.84" fill="none" stroke="#c9783c" stroke-width="1.05" clip-path="url(#cp4)"/>
<rect x="305.55" y="215.04" width="133.6" height="99.46" fill="none" stroke="#000" stroke-width="1.4"/>
<line x1="303.55" y1="314.5" x2="305.55" y2="314.5" stroke="#000" stroke-width="1"/>
<text x="302.95" y="317.6" text-anchor="end" font-size="9.5">0</text>
<line x1="303.55" y1="299.16" x2="305.55" y2="299.16" stroke="#000" stroke-width="1"/>
<text x="302.95" y="302.26" text-anchor="end" font-size="9.5">10</text>
<line x1="303.55" y1="283.82" x2="305.55" y2="283.82" stroke="#000" stroke-width="1"/>
<text x="302.95" y="286.92" text-anchor="end" font-size="9.5">20</text>
<line x1="303.55" y1="268.48" x2="305.55" y2="268.48" stroke="#000" stroke-width="1"/>
<text x="302.95" y="271.58" text-anchor="end" font-size="9.5">30</text>
<line x1="303.55" y1="253.14" x2="305.55" y2="253.14" stroke="#000" stroke-width="1"/>
<text x="302.95" y="256.24" text-anchor="end" font-size="9.5">40</text>
<line x1="303.55" y1="237.8" x2="305.55" y2="237.8" stroke="#000" stroke-width="1"/>
<text x="302.95" y="240.9" text-anchor="end" font-size="9.5">50</text>
<line x1="303.55" y1="222.46" x2="305.55" y2="222.46" stroke="#000" stroke-width="1"/>
<text x="302.95" y="225.56" text-anchor="end" font-size="9.5">60</text>
<line x1="305.55" y1="314.5" x2="305.55" y2="316.5" stroke="#000" stroke-width="1"/>
<text transform="translate(306.55,327.2) rotate(-45)" y="3.4" text-anchor="middle" font-size="9.5">0.0</text>
<line x1="317.69" y1="314.5" x2="317.69" y2="316.5" stroke="#000" stroke-width="1"/>
<text transform="translate(318.69,327.2) rotate(-45)" y="3.4" text-anchor="middle" font-size="9.5">0.8</text>
<line x1="329.84" y1="314.5" x2="329.84" y2="316.5" stroke="#000" stroke-width="1"/>
<text transform="translate(330.84,327.2) rotate(-45)" y="3.4" text-anchor="middle" font-size="9.5">1.6</text>
<line x1="341.98" y1="314.5" x2="341.98" y2="316.5" stroke="#000" stroke-width="1"/>
<text transform="translate(342.98,327.2) rotate(-45)" y="3.4" text-anchor="middle" font-size="9.5">2.4</text>
<line x1="354.13" y1="314.5" x2="354.13" y2="316.5" stroke="#000" stroke-width="1"/>
<text transform="translate(355.13,327.2) rotate(-45)" y="3.4" text-anchor="middle" font-size="9.5">3.2</text>
<line x1="366.27" y1="314.5" x2="366.27" y2="316.5" stroke="#000" stroke-width="1"/>
<text transform="translate(367.27,327.2) rotate(-45)" y="3.4" text-anchor="middle" font-size="9.5">4.0</text>
<line x1="378.41" y1="314.5" x2="378.41" y2="316.5" stroke="#000" stroke-width="1"/>
<text transform="translate(379.41,327.2) rotate(-45)" y="3.4" text-anchor="middle" font-size="9.5">4.8</text>
<line x1="390.56" y1="314.5" x2="390.56" y2="316.5" stroke="#000" stroke-width="1"/>
<text transform="translate(391.56,327.2) rotate(-45)" y="3.4" text-anchor="middle" font-size="9.5">5.6</text>
<line x1="402.7" y1="314.5" x2="402.7" y2="316.5" stroke="#000" stroke-width="1"/>
<text transform="translate(403.7,327.2) rotate(-45)" y="3.4" text-anchor="middle" font-size="9.5">6.4</text>
<line x1="414.85" y1="314.5" x2="414.85" y2="316.5" stroke="#000" stroke-width="1"/>
<text transform="translate(415.85,327.2) rotate(-45)" y="3.4" text-anchor="middle" font-size="9.5">7.2</text>
<line x1="426.99" y1="314.5" x2="426.99" y2="316.5" stroke="#000" stroke-width="1"/>
<text transform="translate(427.99,327.2) rotate(-45)" y="3.4" text-anchor="middle" font-size="9.5">8.0</text>
<line x1="439.13" y1="314.5" x2="439.13" y2="316.5" stroke="#000" stroke-width="1"/>
<text transform="translate(440.13,327.2) rotate(-45)" y="3.4" text-anchor="middle" font-size="9.5">8.8</text>
<text x="371.4" y="342.7" text-anchor="middle" font-size="10.91">Pore size (mm)</text>
<text transform="translate(290.4,263.4) rotate(-90)" text-anchor="middle" font-size="10.63">Percentage range (%)</text>
<text x="436.1" y="224.8" text-anchor="end" font-size="8.7">Average pore size: 2.09mm</text>
<text x="436.8" y="235.9" text-anchor="end" font-size="8.8">8wt%</text>
<rect x="395" y="228.6" width="17.7" height="8.4" fill="url(#hatch)" stroke="#c57538" stroke-width="1"/>
</svg>
</body></html>
